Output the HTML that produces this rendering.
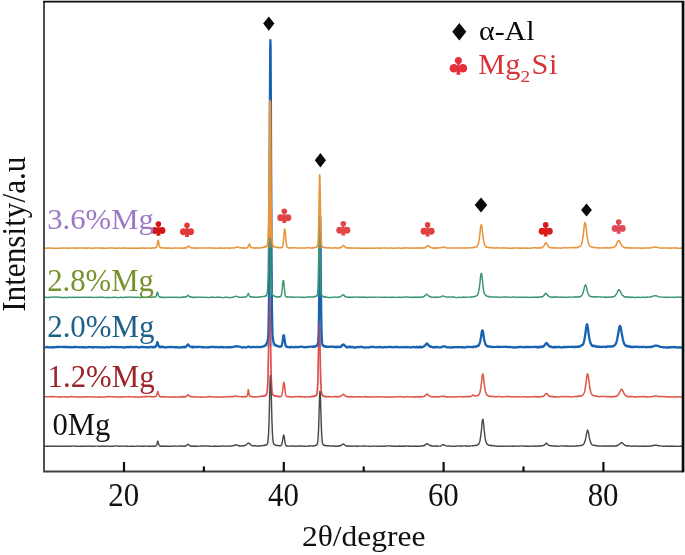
<!DOCTYPE html>
<html lang="en"><head><meta charset="utf-8"><title>XRD patterns</title>
<style>html,body{margin:0;padding:0;background:#fff}body{width:685px;height:555px;overflow:hidden;position:relative}</style></head>
<body>
<svg width="685" height="555" viewBox="0 0 685 555" style="position:absolute;left:0;top:0;filter:blur(0.4px)">
<rect width="685" height="555" fill="#fff"/>
<defs><clipPath id="cp"><rect x="44" y="2" width="639" height="469"/></clipPath></defs>
<g clip-path="url(#cp)" fill="none" stroke-linejoin="round" stroke-linecap="round">
<path d="M43.8,396.8 44.6,396.7 45.4,396.8 46.2,396.7 47.0,396.8 47.8,396.8 48.6,396.7 49.4,396.8 50.2,396.6 51.0,396.7 51.8,396.6 52.6,396.6 53.4,396.7 54.2,396.9 55.0,396.7 55.8,396.7 56.6,396.8 57.4,397.0 58.2,397.0 59.0,396.9 59.8,397.1 60.6,396.8 61.4,397.0 62.2,396.9 63.0,396.7 63.8,396.7 64.6,396.7 65.4,396.9 66.2,396.8 67.0,396.9 67.8,396.9 68.6,396.9 69.4,396.9 70.2,396.7 71.0,396.6 71.8,396.6 72.6,396.8 73.4,396.8 74.2,396.8 75.0,396.9 75.8,396.9 76.6,396.8 77.4,397.0 78.2,397.0 79.0,396.9 79.8,396.9 80.6,396.9 81.4,397.1 82.2,397.1 83.0,396.9 83.8,397.1 84.5,396.9 85.3,396.8 86.1,397.0 86.9,396.8 87.7,396.8 88.5,396.7 89.3,396.8 90.1,397.0 90.9,397.0 91.7,397.1 92.5,396.9 93.3,397.0 94.1,397.0 94.9,397.0 95.7,396.9 96.5,397.1 97.3,397.2 98.1,397.1 98.9,397.1 99.7,396.8 100.5,396.9 101.3,397.0 102.1,397.1 102.9,397.2 103.7,397.0 104.5,396.9 105.3,397.0 106.1,396.7 106.9,396.8 107.7,396.7 108.5,396.6 109.3,396.6 110.1,396.8 110.9,396.7 111.7,396.7 112.5,396.7 113.3,396.9 114.1,396.8 114.9,396.8 115.7,396.9 116.5,397.0 117.3,397.1 118.1,397.2 118.9,397.0 119.7,396.9 120.5,396.8 121.3,397.0 122.1,397.2 122.9,396.9 123.7,396.8 124.5,396.7 125.3,396.7 126.1,396.8 126.9,396.8 127.7,396.8 128.5,396.6 129.3,396.7 130.1,396.7 130.9,396.8 131.7,397.0 132.5,397.1 133.3,397.0 134.1,397.0 134.9,397.0 135.7,396.8 136.5,397.0 137.3,397.1 138.1,397.1 138.9,397.2 139.7,397.0 140.5,396.9 141.3,396.7 142.1,396.9 142.9,396.7 143.7,396.6 144.5,396.6 145.3,396.6 146.1,396.6 146.9,396.6 147.7,396.5 148.5,396.5 149.3,396.5 150.1,396.6 150.9,396.5 151.4,396.8 151.7,396.9 151.7,396.7 152.0,396.7 152.4,396.7 152.5,396.7 152.7,396.6 153.0,396.8 153.3,397.0 153.3,396.9 153.6,396.9 154.0,396.6 154.1,396.5 154.3,396.6 154.6,396.5 154.9,396.7 154.9,396.6 155.2,396.4 155.6,396.6 155.7,396.6 155.9,396.3 156.2,396.1 156.5,395.6 156.5,395.5 156.8,394.9 157.2,393.7 157.3,393.2 157.5,392.1 157.8,391.4 158.1,391.7 158.1,392.1 158.4,393.5 158.8,394.9 158.9,395.1 159.1,395.6 159.4,396.2 159.7,396.6 159.7,396.7 160.0,396.9 160.4,396.9 160.5,396.9 160.7,396.8 161.0,396.8 161.3,396.7 161.3,396.6 161.6,396.5 162.0,396.5 162.1,396.5 162.3,396.7 162.6,397.0 162.9,396.9 162.9,397.0 163.2,397.2 163.6,397.2 163.7,397.0 163.9,396.8 164.2,396.7 164.4,396.7 165.2,396.6 166.0,396.8 166.8,397.0 167.6,397.1 168.4,397.0 169.2,397.0 170.0,397.1 170.8,396.8 171.6,396.9 172.4,397.1 173.2,397.1 174.0,397.1 174.8,397.0 175.6,396.8 176.4,397.0 177.2,396.9 178.0,397.0 178.8,397.1 179.6,397.0 180.4,396.9 180.8,397.1 181.1,397.1 181.2,396.9 181.5,396.7 181.8,396.6 182.0,396.9 182.1,397.0 182.4,396.8 182.7,396.9 182.8,397.1 183.0,397.0 183.4,396.9 183.6,396.9 183.7,396.7 184.0,396.5 184.3,396.8 184.4,396.9 184.6,396.8 185.0,397.0 185.2,396.8 185.3,396.9 185.6,396.9 185.9,396.6 186.0,396.4 186.2,396.2 186.6,395.9 186.8,395.8 186.9,395.7 187.2,395.3 187.5,394.9 187.6,395.1 187.8,394.9 188.2,394.9 188.4,395.1 188.5,395.3 188.8,395.5 189.1,396.0 189.2,396.0 189.4,396.2 189.8,396.4 190.0,396.3 190.1,396.4 190.4,396.4 190.7,396.4 190.8,396.6 191.0,396.6 191.4,396.7 191.6,396.8 191.7,396.8 192.0,396.8 192.3,396.8 192.4,396.8 192.6,396.9 193.0,396.7 193.2,396.8 193.3,396.7 193.6,396.7 193.9,396.9 194.0,396.9 194.2,396.9 194.6,397.0 194.8,397.1 194.9,397.0 195.2,397.0 195.6,396.9 196.4,396.9 197.2,397.0 198.0,396.9 198.8,396.9 199.6,396.9 200.4,397.1 201.2,397.1 202.0,397.1 202.8,397.2 203.6,397.0 204.4,397.0 205.2,397.1 206.0,397.2 206.8,396.9 207.6,396.7 208.4,396.8 209.2,396.6 210.0,396.6 210.8,396.6 211.6,396.8 212.4,396.9 213.2,397.1 214.0,396.9 214.8,397.0 215.6,397.0 216.4,396.8 217.2,397.0 218.0,397.1 218.8,396.9 219.6,397.1 220.4,397.0 221.2,396.9 222.0,397.1 222.8,397.1 223.6,396.9 224.4,396.9 225.2,396.9 226.0,396.8 226.8,396.7 227.6,396.7 228.4,396.8 229.2,396.6 230.0,396.7 230.8,396.7 231.6,396.6 232.4,396.6 233.2,396.6 234.0,396.5 234.8,396.0 235.6,396.0 236.4,396.1 237.2,396.5 238.0,396.5 238.8,396.6 239.6,396.5 240.4,396.7 241.2,396.7 241.9,396.6 242.0,396.6 242.2,396.9 242.5,397.0 242.8,396.8 242.9,396.6 243.2,396.9 243.5,396.9 243.6,396.9 243.8,396.7 244.1,396.5 244.3,396.7 244.5,396.7 244.8,396.5 245.1,396.8 245.1,396.8 245.4,396.9 245.7,396.6 245.9,396.7 246.1,396.5 246.4,396.6 246.7,396.4 246.7,396.3 247.0,396.1 247.3,395.6 247.5,394.6 247.7,393.8 248.0,391.4 248.3,389.7 248.3,389.6 248.6,391.1 248.9,393.5 249.1,394.6 249.3,395.1 249.6,395.8 249.9,396.3 249.9,396.3 250.2,396.4 250.5,396.4 250.7,396.4 250.9,396.3 251.2,396.4 251.5,396.3 251.5,396.6 251.8,396.6 252.1,396.6 252.3,396.6 252.5,396.8 252.8,396.6 253.1,396.8 253.1,396.7 253.4,396.7 253.7,396.9 253.9,396.8 254.0,396.8 254.4,396.8 254.7,397.0 254.7,396.8 255.5,396.9 256.3,396.9 257.1,396.9 257.9,396.7 258.7,396.6 259.5,396.4 260.3,396.3 261.1,396.2 261.9,396.3 262.7,396.2 263.2,396.0 263.4,395.9 263.5,396.1 263.7,396.3 263.8,396.2 264.0,396.1 264.2,395.9 264.3,395.8 264.5,395.8 264.6,395.6 264.8,395.6 265.0,395.5 265.1,395.7 265.3,395.8 265.4,395.6 265.6,395.3 265.8,395.4 265.9,395.1 266.1,394.8 266.2,394.4 266.4,394.2 266.6,394.0 266.7,393.6 266.9,392.9 267.0,392.2 267.2,390.9 267.4,389.3 267.5,387.0 267.7,384.1 267.8,380.0 268.0,374.8 268.2,368.5 268.3,360.9 268.5,352.2 268.6,342.5 268.8,332.3 269.0,322.1 269.1,312.7 269.3,305.1 269.4,299.8 269.6,297.9 269.8,299.8 269.9,304.6 270.1,312.3 270.2,321.8 270.4,331.8 270.6,342.3 270.7,352.2 270.9,361.1 271.0,368.8 271.2,375.3 271.4,380.2 271.5,384.2 271.7,387.2 271.8,389.6 272.0,391.3 272.2,392.5 272.3,393.2 272.5,393.9 272.6,394.3 272.8,394.6 273.0,394.7 273.1,394.7 273.3,394.8 273.4,395.0 273.6,395.0 273.8,395.4 273.9,395.5 274.1,395.6 274.2,395.8 274.4,395.9 274.6,395.9 274.7,395.7 274.9,396.0 275.0,396.1 275.2,396.1 275.4,396.1 275.5,396.2 275.7,396.0 275.8,396.2 276.3,396.2 277.1,396.1 277.4,396.2 277.7,396.4 277.9,396.3 278.1,396.5 278.4,396.7 278.7,396.6 279.0,396.5 279.3,396.5 279.5,396.6 279.7,396.6 280.0,396.6 280.3,396.6 280.6,396.3 280.9,396.2 281.1,396.1 281.3,396.2 281.6,395.7 281.9,395.0 282.2,393.6 282.5,391.5 282.7,390.2 282.9,389.0 283.2,386.2 283.5,383.7 283.8,382.3 284.1,382.8 284.3,383.6 284.5,384.8 284.8,387.5 285.1,390.6 285.4,392.8 285.7,394.7 285.9,395.4 286.1,395.5 286.4,396.1 286.7,396.5 287.0,396.8 287.3,396.7 287.5,396.6 287.7,396.5 288.0,396.8 288.3,396.6 288.6,396.7 288.9,396.6 289.1,396.6 289.3,396.9 289.6,396.7 289.9,396.8 290.2,396.8 290.7,396.9 291.5,397.0 292.3,396.8 293.1,397.0 293.9,396.9 294.7,396.7 295.5,396.5 296.3,396.6 297.1,396.7 297.9,396.7 298.7,396.6 299.5,396.6 300.3,396.6 301.1,396.8 301.9,396.6 302.7,396.8 303.5,396.9 304.3,396.7 305.1,396.9 305.9,396.9 306.7,397.0 307.5,396.8 308.3,396.7 309.1,396.7 309.9,396.9 310.7,396.8 311.5,396.6 312.3,396.5 312.9,396.4 313.1,396.2 313.1,396.1 313.2,396.4 313.4,396.3 313.6,396.5 313.7,396.3 313.9,396.2 313.9,396.2 314.0,396.1 314.2,396.1 314.3,396.3 314.5,396.4 314.7,396.4 314.7,396.3 314.8,396.3 315.0,396.3 315.1,396.2 315.3,396.1 315.5,395.7 315.5,395.8 315.6,395.7 315.8,395.7 315.9,395.6 316.1,395.3 316.3,395.0 316.3,395.2 316.4,394.8 316.6,394.5 316.7,394.1 316.9,393.4 317.1,392.8 317.1,392.9 317.2,391.5 317.4,389.7 317.5,387.1 317.7,383.8 317.9,379.5 317.9,379.2 318.0,373.5 318.2,366.8 318.3,359.4 318.5,351.0 318.7,342.8 318.7,342.6 318.8,334.8 319.0,328.0 319.1,323.3 319.3,321.7 319.5,323.1 319.5,323.3 319.6,327.8 319.8,334.5 319.9,342.6 320.1,351.2 320.3,359.4 320.3,359.8 320.4,367.4 320.6,374.0 320.7,379.5 320.9,383.9 321.1,387.0 321.1,387.0 321.2,389.5 321.4,391.6 321.5,392.6 321.7,393.5 321.9,394.2 321.9,394.3 322.0,394.6 322.2,394.8 322.3,395.0 322.5,395.2 322.7,395.4 322.7,395.6 322.8,395.8 323.0,396.0 323.1,395.8 323.3,395.7 323.5,395.9 323.5,396.1 323.6,396.1 323.8,396.1 323.9,396.0 324.1,396.0 324.2,396.3 324.3,396.4 324.4,396.5 324.6,396.6 324.7,396.4 324.9,396.3 325.0,396.2 325.1,396.3 325.2,396.4 325.4,396.6 325.5,396.6 325.8,396.7 326.6,396.8 327.4,396.7 328.2,396.7 329.0,396.6 329.8,396.8 330.6,396.6 331.4,396.9 332.2,396.9 333.0,396.8 333.6,396.6 333.8,396.6 333.9,396.7 334.3,396.8 334.6,396.6 334.6,396.5 334.9,396.6 335.2,396.7 335.4,396.7 335.5,396.6 335.9,396.7 336.2,396.5 336.2,396.6 336.5,396.6 336.8,396.9 337.0,396.9 337.1,397.0 337.4,396.9 337.8,396.7 337.8,396.6 338.1,396.8 338.4,396.9 338.6,396.7 338.7,396.5 339.0,396.6 339.4,396.6 339.4,396.6 339.7,396.5 340.0,396.5 340.2,396.6 340.3,396.4 340.6,396.1 341.0,395.9 341.0,395.9 341.3,395.9 341.6,395.5 341.8,395.4 341.9,395.4 342.2,395.0 342.6,394.6 342.6,394.8 342.9,394.5 343.2,394.5 343.4,394.4 343.5,394.3 343.8,394.7 344.2,394.9 344.2,395.2 344.5,395.4 344.8,395.5 345.0,395.7 345.1,395.8 345.4,396.1 345.8,396.5 345.8,396.3 346.1,396.4 346.4,396.4 346.6,396.7 346.7,396.5 347.0,396.4 347.4,396.4 347.4,396.5 347.7,396.7 348.0,396.9 348.2,396.9 348.3,397.1 348.6,397.1 349.0,396.9 349.0,396.7 349.3,396.9 349.6,397.0 349.8,396.7 349.9,396.8 350.2,396.8 350.6,396.7 350.6,396.7 350.9,396.6 351.2,396.5 351.4,396.5 351.5,396.6 351.8,396.9 352.2,396.7 352.2,396.9 352.5,396.8 352.8,396.8 353.0,396.9 353.8,397.0 354.6,396.9 355.4,396.7 356.2,396.8 357.0,396.8 357.8,397.0 358.6,396.8 359.4,396.8 360.2,397.0 361.0,396.7 361.8,396.8 362.6,396.9 363.4,397.0 364.2,396.8 365.0,396.6 365.8,396.6 366.6,396.9 367.4,396.8 368.2,396.9 369.0,397.1 369.8,396.9 370.6,396.8 371.4,397.0 372.2,397.0 373.0,396.9 373.8,397.0 374.6,396.9 375.4,396.8 376.2,396.6 377.0,396.8 377.8,397.0 378.6,397.0 379.4,397.1 380.2,396.8 381.0,396.8 381.8,396.8 382.6,397.0 383.4,397.1 384.2,397.0 385.0,396.9 385.8,396.8 386.6,396.9 387.4,397.0 388.2,396.8 389.0,397.0 389.8,397.0 390.6,397.1 391.4,397.1 392.2,397.1 393.0,396.9 393.8,396.8 394.6,396.8 395.4,396.9 396.2,396.8 397.0,396.7 397.8,396.9 398.6,396.8 399.4,396.6 400.2,396.5 401.0,396.7 401.8,396.7 402.6,397.0 403.4,397.1 404.1,397.2 404.9,397.0 405.7,396.8 406.5,396.6 407.3,396.7 408.1,396.9 408.9,396.9 409.7,396.8 410.5,396.8 411.3,396.9 412.1,396.9 412.9,397.0 413.7,397.1 414.5,397.1 415.3,396.8 416.1,397.0 416.2,396.8 416.5,396.9 416.9,396.8 416.9,396.9 417.2,396.8 417.5,396.7 417.7,396.6 417.8,396.6 418.1,396.8 418.5,396.9 418.5,396.8 418.8,396.8 419.1,397.0 419.3,396.9 419.4,396.8 419.7,396.9 420.0,396.9 420.1,397.1 420.4,396.8 420.7,396.8 420.9,396.9 421.0,397.0 421.3,397.1 421.6,396.7 421.7,396.7 422.0,396.5 422.3,396.5 422.5,396.7 422.6,396.7 422.9,396.8 423.2,396.7 423.3,396.8 423.6,396.6 423.9,396.4 424.1,396.4 424.2,396.5 424.5,396.1 424.8,395.9 424.9,395.9 425.2,395.6 425.5,395.3 425.7,395.0 425.8,394.9 426.1,394.6 426.4,394.5 426.5,394.5 426.8,394.3 427.1,394.1 427.3,394.2 427.4,394.4 427.7,394.5 428.0,394.8 428.1,394.8 428.4,395.2 428.7,395.5 428.9,395.6 429.0,395.5 429.3,395.8 429.6,396.1 429.7,396.2 430.0,396.2 430.3,396.2 430.5,396.5 430.6,396.5 430.9,396.5 431.2,396.5 431.3,396.8 431.6,396.7 431.9,396.7 432.1,396.7 432.2,396.7 432.5,396.9 432.8,397.0 432.9,396.9 433.2,396.7 433.5,396.8 433.7,396.7 433.8,396.5 434.1,396.8 434.4,396.8 434.5,396.9 434.8,396.8 435.1,397.0 435.3,396.9 435.4,396.7 435.7,396.6 436.0,396.7 436.1,396.8 436.3,397.0 436.7,396.7 436.9,396.8 437.0,396.8 437.3,396.8 437.6,396.7 437.7,396.6 438.5,396.7 439.3,396.9 440.1,396.6 440.9,396.5 441.7,396.4 442.5,396.4 443.3,396.1 444.1,396.2 444.9,396.6 445.7,396.9 446.5,396.9 447.3,396.7 448.1,396.9 448.9,396.8 449.7,397.0 450.5,397.0 451.3,397.1 452.1,396.8 452.9,396.9 453.7,396.8 454.5,396.8 455.3,396.9 456.1,397.0 456.9,396.8 457.7,396.7 458.5,396.7 459.3,396.8 460.1,396.7 460.9,396.6 461.7,396.6 462.5,396.7 463.3,396.9 464.1,396.7 464.9,396.7 465.7,396.8 466.5,396.6 467.3,396.8 468.1,396.6 468.9,396.6 469.7,396.6 470.5,396.5 471.3,396.2 472.1,395.6 472.7,395.1 472.9,395.0 473.1,395.1 473.4,395.1 473.7,395.3 473.7,395.1 474.0,395.5 474.3,395.7 474.5,395.7 474.7,395.9 475.0,396.1 475.3,396.1 475.3,396.0 475.6,396.0 475.9,395.9 476.1,395.8 476.3,395.8 476.6,395.7 476.9,395.7 476.9,395.8 477.2,395.5 477.5,395.6 477.7,395.4 477.8,395.5 478.2,395.4 478.5,395.2 478.5,394.9 478.8,394.7 479.1,394.2 479.3,394.2 479.4,393.6 479.8,392.9 480.1,392.1 480.1,391.9 480.4,390.5 480.7,388.3 480.9,387.6 481.0,386.1 481.4,383.6 481.7,381.1 481.7,380.5 482.0,377.9 482.3,375.6 482.5,374.7 482.6,374.0 483.0,374.1 483.2,375.1 483.3,375.5 483.6,377.7 483.9,380.6 484.0,381.6 484.2,383.3 484.6,386.2 484.8,388.1 484.9,388.2 485.2,390.2 485.5,391.6 485.6,392.0 485.8,392.6 486.2,393.4 486.4,394.3 486.5,394.4 486.8,395.0 487.1,395.1 487.2,395.3 487.4,395.3 487.8,395.5 488.0,395.7 488.1,395.7 488.4,396.0 488.7,396.0 488.8,396.1 489.0,396.2 489.4,396.1 489.6,396.3 489.7,396.3 490.0,396.3 490.3,396.4 490.4,396.3 490.6,396.5 491.0,396.5 491.2,396.4 491.3,396.5 491.6,396.5 491.9,396.4 492.0,396.5 492.2,396.3 492.6,396.6 492.8,396.5 493.6,396.6 494.4,396.8 495.2,396.8 496.0,396.8 496.8,396.7 497.6,396.5 498.4,396.4 499.2,396.4 500.0,396.6 500.8,396.7 501.6,396.7 502.4,396.9 503.2,396.7 504.0,396.7 504.8,396.8 505.6,396.6 506.4,396.5 507.2,396.6 508.0,396.5 508.8,396.6 509.6,396.6 510.4,396.7 511.2,396.8 512.0,396.7 512.8,396.8 513.6,396.8 514.4,396.7 515.2,396.9 516.0,396.8 516.8,396.7 517.6,396.6 518.4,396.7 519.2,396.9 520.0,397.0 520.8,396.9 521.6,396.8 522.4,396.6 523.2,396.8 524.0,396.8 524.8,396.8 525.6,396.9 526.4,396.8 527.2,397.0 528.0,397.0 528.8,396.9 529.6,397.0 530.4,396.8 531.2,396.8 532.0,396.8 532.8,396.7 533.6,396.6 534.4,396.8 535.2,396.6 535.6,396.7 535.9,396.9 536.0,396.7 536.3,396.6 536.6,396.8 536.8,396.8 536.9,396.8 537.2,396.9 537.5,396.8 537.6,396.7 537.9,396.7 538.2,396.5 538.4,396.8 538.5,396.9 538.8,396.9 539.1,396.7 539.2,396.8 539.5,396.9 539.8,396.8 540.0,396.9 540.1,396.8 540.4,396.6 540.7,396.5 540.8,396.5 541.0,396.4 541.4,396.4 541.6,396.6 541.7,396.7 542.0,396.7 542.3,396.7 542.4,396.5 542.6,396.5 543.0,396.3 543.2,396.4 543.3,396.3 543.6,396.0 543.9,395.8 544.0,395.9 544.2,395.5 544.6,395.3 544.8,394.8 544.9,394.6 545.2,394.2 545.5,393.9 545.6,394.1 545.8,393.8 546.2,393.5 546.4,393.5 546.5,393.4 546.8,393.4 547.1,393.9 547.2,394.0 547.4,394.3 547.8,394.7 548.0,395.1 548.1,395.1 548.4,395.6 548.7,395.9 548.8,396.0 549.0,396.0 549.4,396.3 549.6,396.4 549.7,396.3 550.0,396.3 550.3,396.5 550.4,396.3 550.6,396.6 551.0,396.5 551.2,396.4 551.3,396.3 551.6,396.6 551.9,396.6 552.0,396.5 552.2,396.4 552.6,396.3 552.8,396.6 552.9,396.7 553.2,396.8 553.5,396.9 553.6,396.6 553.8,396.7 554.2,396.7 554.4,396.8 554.5,396.9 554.8,397.0 555.1,396.8 555.2,396.9 555.4,397.0 555.8,397.1 556.0,396.8 556.1,396.7 556.4,396.6 556.7,396.5 556.8,396.7 557.0,396.9 557.6,396.9 558.4,397.0 559.2,397.0 560.0,396.8 560.8,396.6 561.6,396.5 562.4,396.7 563.1,396.6 563.9,396.6 564.7,396.7 565.5,396.5 566.3,396.5 567.1,396.5 567.9,396.7 568.7,396.7 569.5,396.6 570.3,396.8 571.1,396.8 571.9,396.9 572.7,396.8 573.5,396.6 574.3,396.5 575.1,396.5 575.9,396.6 576.1,396.5 576.4,396.6 576.7,396.6 577.1,396.4 577.4,396.5 577.5,396.3 577.7,396.5 578.0,396.3 578.3,396.1 578.7,396.1 579.0,396.2 579.1,396.4 579.3,396.1 579.6,396.1 579.9,396.1 580.2,396.2 580.6,395.9 580.7,395.9 580.9,395.8 581.2,395.9 581.5,395.7 581.8,395.7 582.2,395.4 582.3,395.2 582.5,395.3 582.8,395.0 583.1,394.5 583.4,394.2 583.8,393.5 583.9,393.4 584.1,393.1 584.4,392.2 584.7,391.0 585.0,389.3 585.4,387.5 585.5,386.4 585.7,385.5 586.0,382.9 586.3,380.6 586.6,377.9 587.0,375.7 587.1,374.8 587.3,374.5 587.6,373.9 587.9,374.4 588.2,376.0 588.6,378.0 588.7,379.2 588.9,380.5 589.2,383.1 589.5,385.5 589.8,387.6 590.2,389.3 590.3,390.0 590.5,390.6 590.8,392.0 591.1,393.0 591.4,393.8 591.8,394.2 591.9,394.4 592.1,394.7 592.4,395.1 592.7,395.1 593.0,395.4 593.4,395.7 593.5,395.6 593.7,395.6 594.0,395.7 594.3,395.9 594.6,396.1 595.0,396.0 595.1,395.9 595.3,395.9 595.6,396.0 595.9,396.1 596.2,396.1 596.5,396.1 596.7,396.1 596.9,396.4 597.2,396.5 597.5,396.3 597.8,396.6 598.1,396.4 598.3,396.4 598.5,396.6 598.8,396.7 599.1,396.7 599.9,396.7 600.7,396.5 601.5,396.6 602.3,396.5 603.1,396.4 603.9,396.5 604.7,396.4 605.5,396.5 606.3,396.7 607.1,396.8 607.6,396.7 607.9,396.8 607.9,396.7 608.2,396.6 608.6,396.7 608.7,396.6 608.9,396.7 609.2,396.9 609.5,396.8 609.5,396.8 609.8,396.8 610.2,396.7 610.3,396.6 610.5,396.7 610.8,396.8 611.1,396.9 611.1,396.9 611.4,396.9 611.8,396.9 611.9,396.8 612.1,396.7 612.4,396.6 612.7,396.6 612.7,396.5 613.0,396.5 613.4,396.6 613.5,396.7 613.7,396.7 614.0,396.5 614.3,396.5 614.3,396.5 614.6,396.5 614.9,396.4 615.1,396.5 615.3,396.6 615.6,396.3 615.9,396.3 615.9,396.4 616.2,396.2 616.5,396.1 616.7,396.2 616.9,395.8 617.2,395.7 617.5,395.3 617.5,395.5 617.8,395.4 618.1,394.9 618.3,394.5 618.5,394.3 618.8,393.8 619.1,393.4 619.1,393.3 619.4,392.7 619.7,392.1 619.9,391.8 620.1,391.3 620.4,390.8 620.7,390.1 620.7,390.1 621.0,389.6 621.3,389.5 621.5,389.3 621.7,389.5 622.0,389.6 622.3,389.8 622.3,389.9 622.6,390.5 622.9,391.0 623.1,391.3 623.3,391.8 623.6,392.6 623.9,393.1 623.9,393.1 624.2,393.7 624.5,394.3 624.7,394.7 624.9,394.9 625.2,395.1 625.5,395.6 625.5,395.5 625.8,395.6 626.1,395.7 626.3,396.0 626.5,396.2 626.8,396.3 627.1,396.3 627.1,396.4 627.4,396.3 627.7,396.6 627.9,396.5 628.1,396.5 628.4,396.7 628.7,396.8 628.7,396.7 629.0,396.6 629.3,396.6 629.5,396.5 629.7,396.7 630.0,396.6 630.3,396.8 630.3,396.6 630.6,396.6 630.9,396.5 631.1,396.6 631.2,396.5 631.6,396.4 631.9,396.6 631.9,396.6 632.2,396.5 632.5,396.5 632.7,396.6 632.8,396.6 633.2,396.7 633.5,396.8 633.5,396.7 633.8,396.9 634.1,397.0 634.3,396.7 634.4,396.9 634.8,397.0 635.1,397.0 635.1,396.8 635.9,396.9 636.7,396.9 637.5,396.7 638.3,396.5 639.1,396.8 639.9,396.9 640.7,396.8 641.5,396.6 642.3,396.6 643.0,396.6 643.8,396.8 644.6,396.7 645.4,396.6 646.2,396.8 647.0,396.9 647.8,396.7 648.6,396.9 649.4,396.8 650.2,396.8 651.0,396.7 651.8,396.7 652.6,396.6 653.4,396.4 654.2,396.0 655.0,396.0 655.8,396.0 656.6,396.1 657.4,396.2 658.2,396.5 659.0,396.6 659.8,396.6 660.6,396.5 661.4,396.5 662.2,396.6 663.0,396.5 663.8,396.6 664.6,396.6 665.4,396.7 666.2,396.8 667.0,396.8 667.8,397.0 668.6,396.7 669.4,396.9 670.2,396.9 671.0,396.9 671.8,397.0 672.6,397.1 673.4,396.9 674.2,396.9 675.0,397.1 675.8,396.8 676.6,396.9 677.4,396.9 678.2,396.7 679.0,396.8 679.8,396.9 680.6,397.1 681.4,396.9 682.2,397.1 683.0,397.0" stroke="#dd5a4a" stroke-width="1.55"/>
<path d="M260.0,396.6 260.2,396.6 260.3,396.6 260.5,396.6 260.7,396.5 260.8,396.5 261.0,396.5 261.1,396.5 261.3,396.5 261.5,396.5 261.6,396.5 261.8,396.5 261.9,396.4 262.1,396.4 262.2,396.4 262.4,396.4 262.6,396.3 262.7,396.3 262.9,396.3 263.0,396.3 263.2,396.2 263.4,396.2 263.5,396.2 263.7,396.1 263.8,396.1 264.0,396.1 264.2,396.0 264.3,396.0 264.5,395.9 264.6,395.8 264.8,395.8 265.0,395.7 265.1,395.6 265.3,395.5 265.4,395.4 265.6,395.3 265.8,395.2 265.9,395.0 266.1,394.9 266.2,394.7 266.4,394.4 266.6,394.1 266.7,393.7 266.9,393.1 267.0,392.3 267.2,391.1 267.4,389.5 267.5,387.3 267.7,384.3 267.8,380.3 268.0,375.1 268.2,368.7 268.3,361.1 268.5,352.2 268.6,342.4 268.8,332.1 269.0,321.8 269.1,312.4 269.3,304.7 269.4,299.7 269.6,297.9 269.8,299.7 269.9,304.7 270.1,312.4 270.2,321.8 270.4,332.1 270.6,342.4 270.7,352.2 270.9,361.0 271.0,368.7 271.2,375.1 271.4,380.3 271.5,384.3 271.7,387.3 271.8,389.5 272.0,391.1 272.2,392.2 272.3,393.1 272.5,393.6 272.6,394.1 272.8,394.4 273.0,394.6 273.1,394.9 273.3,395.0 273.4,395.2 273.6,395.3 273.8,395.4 273.9,395.5 274.1,395.6 274.2,395.7 274.4,395.7 274.6,395.8 274.7,395.9 274.9,395.9 275.0,396.0 275.2,396.0 275.4,396.1 275.5,396.1 275.7,396.1 275.8,396.2 276.0,396.2 276.2,396.2 276.3,396.3 276.5,396.3 276.6,396.3 276.8,396.3 277.0,396.3 277.1,396.4 277.3,396.4 277.4,396.4 277.6,396.4 277.7,396.4 277.9,396.4 278.1,396.4 278.2,396.5 278.4,396.5 278.5,396.5 278.7,396.5 278.9,396.5 279.0,396.5Z" fill="#dd5a4a" fill-opacity="0.12" stroke="none"/>
<path d="M309.7,396.7 309.9,396.7 310.0,396.7 310.2,396.7 310.4,396.7 310.5,396.7 310.7,396.6 310.8,396.6 311.0,396.6 311.2,396.6 311.3,396.6 311.5,396.6 311.6,396.6 311.8,396.6 311.9,396.6 312.1,396.6 312.3,396.5 312.4,396.5 312.6,396.5 312.7,396.5 312.9,396.5 313.1,396.4 313.2,396.4 313.4,396.4 313.5,396.4 313.7,396.3 313.9,396.3 314.0,396.3 314.2,396.2 314.3,396.2 314.5,396.2 314.7,396.1 314.8,396.1 315.0,396.0 315.1,395.9 315.3,395.9 315.5,395.8 315.6,395.7 315.8,395.6 315.9,395.5 316.1,395.3 316.3,395.1 316.4,394.9 316.6,394.6 316.7,394.2 316.9,393.6 317.1,392.7 317.2,391.5 317.4,389.7 317.5,387.2 317.7,383.8 317.9,379.4 318.0,373.9 318.2,367.2 318.3,359.5 318.5,351.2 318.7,342.7 318.8,334.7 319.0,328.0 319.1,323.5 319.3,321.9 319.5,323.5 319.6,328.0 319.8,334.7 319.9,342.7 320.1,351.2 320.3,359.5 320.4,367.2 320.6,373.9 320.7,379.4 320.9,383.8 321.1,387.2 321.2,389.7 321.4,391.5 321.5,392.7 321.7,393.6 321.9,394.2 322.0,394.6 322.2,394.9 322.3,395.1 322.5,395.3 322.7,395.5 322.8,395.6 323.0,395.7 323.1,395.8 323.3,395.9 323.5,395.9 323.6,396.0 323.8,396.1 323.9,396.1 324.1,396.2 324.3,396.2 324.4,396.2 324.6,396.3 324.7,396.3 324.9,396.3 325.1,396.4 325.2,396.4 325.4,396.4 325.5,396.4 325.7,396.5 325.9,396.5 326.0,396.5 326.2,396.5 326.3,396.5 326.5,396.6 326.7,396.6 326.8,396.6 327.0,396.6 327.1,396.6 327.3,396.6 327.4,396.6 327.6,396.6 327.8,396.6 327.9,396.6 328.1,396.7 328.2,396.7 328.4,396.7 328.6,396.7 328.7,396.7Z" fill="#dd5a4a" fill-opacity="0.12" stroke="none"/>
<path d="M43.8,446.2 44.6,446.3 45.4,446.1 46.2,446.2 47.0,446.3 47.8,446.2 48.6,446.3 49.4,446.2 50.2,446.2 51.0,446.2 51.8,446.3 52.6,446.2 53.4,446.2 54.2,446.1 55.0,446.2 55.8,446.3 56.6,446.2 57.4,446.3 58.2,446.2 59.0,446.2 59.8,446.1 60.6,446.2 61.4,446.3 62.2,446.3 63.0,446.4 63.8,446.3 64.6,446.2 65.4,446.1 66.2,446.2 67.0,446.2 67.8,446.3 68.6,446.1 69.4,446.2 70.2,446.3 71.0,446.3 71.8,446.1 72.6,446.1 73.4,445.9 74.2,445.9 75.0,446.2 75.8,446.2 76.6,446.3 77.4,446.3 78.2,446.4 79.0,446.4 79.8,446.3 80.6,446.3 81.4,446.3 82.2,446.3 83.0,446.3 83.8,446.2 84.5,446.2 85.3,446.2 86.1,446.3 86.9,446.1 87.7,446.0 88.5,445.9 89.3,446.1 90.1,446.3 90.9,446.3 91.7,446.2 92.5,446.3 93.3,446.4 94.1,446.3 94.9,446.2 95.7,446.1 96.5,446.1 97.3,446.1 98.1,446.1 98.9,446.2 99.7,446.3 100.5,446.1 101.3,446.2 102.1,446.0 102.9,446.0 103.7,446.2 104.5,446.2 105.3,446.3 106.1,446.3 106.9,446.1 107.7,446.1 108.5,446.2 109.3,446.3 110.1,446.4 110.9,446.3 111.7,446.2 112.5,446.1 113.3,446.2 114.1,446.1 114.9,446.0 115.7,445.9 116.5,445.9 117.3,446.1 118.1,446.0 118.9,446.2 119.7,446.1 120.5,446.3 121.3,446.1 122.1,446.0 122.9,446.1 123.7,446.1 124.5,446.2 125.3,446.1 126.1,446.0 126.9,446.2 127.7,446.2 128.5,446.4 129.3,446.4 130.1,446.2 130.9,446.2 131.7,446.3 132.5,446.2 133.3,446.4 134.1,446.2 134.9,446.4 135.7,446.4 136.5,446.1 137.3,446.0 138.1,446.1 138.9,446.3 139.7,446.1 140.5,446.1 141.3,446.2 142.1,446.1 142.9,446.2 143.7,446.2 144.5,446.0 145.3,446.1 146.1,446.1 146.9,446.1 147.7,446.2 148.5,446.1 149.3,446.2 150.1,446.1 150.9,446.2 151.4,446.2 151.7,446.2 151.7,446.1 152.0,446.2 152.4,446.3 152.5,446.4 152.7,446.3 153.0,446.1 153.3,446.0 153.3,446.2 153.6,446.2 154.0,446.3 154.1,446.1 154.3,446.1 154.6,446.3 154.9,446.3 154.9,446.2 155.2,446.0 155.6,445.9 155.7,446.0 155.9,445.8 156.2,445.6 156.5,445.3 156.5,445.3 156.8,444.5 157.2,443.1 157.3,442.5 157.5,441.6 157.8,441.1 158.1,441.6 158.1,441.9 158.4,443.3 158.8,444.2 158.9,444.6 159.1,445.2 159.4,445.8 159.7,445.9 159.7,445.8 160.0,446.0 160.4,446.2 160.5,446.2 160.7,446.3 161.0,446.1 161.3,446.0 161.3,446.0 161.6,446.2 162.0,446.0 162.1,446.2 162.3,446.3 162.6,446.1 162.9,446.2 162.9,446.2 163.2,446.2 163.6,446.1 163.7,446.0 163.9,446.2 164.2,446.3 164.4,446.2 165.2,446.0 166.0,446.2 166.8,446.3 167.6,446.2 168.4,446.2 169.2,446.3 170.0,446.4 170.8,446.3 171.6,446.3 172.4,446.3 173.2,446.1 174.0,446.0 174.8,446.0 175.6,446.1 176.4,446.1 177.2,446.2 178.0,446.1 178.8,446.1 179.6,446.0 180.4,445.9 180.8,446.2 181.1,446.1 181.2,446.0 181.5,446.1 181.8,446.2 182.0,446.1 182.1,446.1 182.4,446.1 182.7,446.1 182.8,446.0 183.0,445.9 183.4,446.1 183.6,446.3 183.7,446.2 184.0,446.2 184.3,446.0 184.4,446.2 184.6,446.1 185.0,446.2 185.2,446.2 185.3,446.2 185.6,446.2 185.9,445.9 186.0,445.7 186.2,445.5 186.6,445.2 186.8,444.9 186.9,444.8 187.2,444.6 187.5,444.5 187.6,444.3 187.8,444.4 188.2,444.5 188.4,444.4 188.5,444.5 188.8,444.7 189.1,445.0 189.2,445.3 189.4,445.4 189.8,445.6 190.0,445.8 190.1,446.0 190.4,446.1 190.7,446.1 190.8,446.0 191.0,445.9 191.4,446.2 191.6,446.3 191.7,446.1 192.0,446.0 192.3,445.9 192.4,446.0 192.6,446.2 193.0,446.3 193.2,446.4 193.3,446.1 193.6,446.2 193.9,446.3 194.0,446.3 194.2,446.4 194.6,446.1 194.8,446.0 194.9,446.2 195.2,446.3 195.6,446.3 196.4,446.2 197.2,446.2 198.0,446.3 198.8,446.1 199.6,446.1 200.4,446.0 201.2,446.0 202.0,446.0 202.8,446.0 203.6,446.0 204.4,445.9 205.2,446.1 206.0,446.0 206.8,446.1 207.6,446.0 208.4,445.9 209.2,446.2 210.0,446.1 210.8,446.3 211.6,446.4 212.4,446.4 213.2,446.2 214.0,446.2 214.8,446.0 215.6,446.2 216.4,446.3 217.2,446.3 218.0,446.2 218.8,446.2 219.6,446.3 220.4,446.2 221.2,446.2 222.0,446.1 222.8,446.0 223.6,445.9 224.4,446.1 225.2,446.1 226.0,446.0 226.8,446.2 227.6,446.1 228.4,446.1 229.2,446.0 230.0,445.9 230.8,446.1 231.6,446.0 232.4,445.9 233.2,445.8 234.0,445.5 234.8,445.2 235.6,444.6 236.4,444.8 236.5,444.7 236.8,445.0 237.2,445.2 237.5,445.3 237.8,445.4 238.0,445.5 238.1,445.5 238.4,445.5 238.8,445.7 239.1,446.0 239.4,446.1 239.6,446.2 239.7,446.0 240.0,445.9 240.4,446.1 240.7,445.9 241.0,446.0 241.2,445.9 241.3,446.1 241.6,445.9 242.0,446.0 242.3,445.9 242.6,445.8 242.8,445.7 242.9,445.9 243.2,445.9 243.6,445.7 243.9,445.7 244.2,445.9 244.3,445.7 244.5,445.7 244.8,445.5 245.1,445.3 245.5,445.3 245.8,445.2 245.9,445.0 246.1,444.8 246.4,444.4 246.7,444.3 247.1,444.0 247.4,443.7 247.5,443.5 247.7,443.4 248.0,443.3 248.3,443.3 248.7,443.3 249.0,443.2 249.1,443.2 249.3,443.5 249.6,443.7 249.9,444.2 250.3,444.3 250.6,444.7 250.7,444.8 250.9,445.0 251.2,445.3 251.5,445.4 251.9,445.4 252.2,445.7 252.3,445.7 252.5,445.8 252.8,445.8 253.1,445.7 253.5,445.9 253.8,445.8 253.9,445.7 254.1,445.8 254.4,445.9 254.7,445.7 255.1,445.8 255.4,445.8 255.5,445.9 255.7,445.8 256.0,445.9 256.3,446.0 256.7,446.1 257.0,446.0 257.1,446.1 257.3,446.0 257.6,446.1 257.9,445.9 258.3,446.0 258.6,446.1 258.7,446.1 258.9,446.0 259.2,446.0 259.5,446.0 259.8,445.8 260.2,446.0 260.3,445.8 260.5,445.7 261.1,445.6 261.9,445.6 262.7,445.7 263.3,445.5 263.5,445.4 263.5,445.6 263.6,445.5 263.8,445.3 263.9,445.5 264.1,445.5 264.3,445.5 264.3,445.6 264.4,445.4 264.6,445.5 264.7,445.5 264.9,445.3 265.1,445.2 265.1,445.2 265.2,445.2 265.4,445.1 265.5,445.0 265.7,445.0 265.9,444.8 265.9,444.9 266.0,445.0 266.2,444.8 266.3,444.8 266.5,444.8 266.7,444.5 266.7,444.6 266.8,444.6 267.0,444.3 267.1,444.0 267.3,443.7 267.5,443.3 267.5,443.0 267.6,442.7 267.8,442.0 267.9,440.8 268.1,439.3 268.3,437.4 268.3,436.7 268.4,435.3 268.6,432.4 268.7,428.9 268.9,424.7 269.1,419.7 269.1,417.6 269.2,413.9 269.4,408.0 269.5,401.7 269.7,395.2 269.9,389.0 269.9,387.1 270.0,383.6 270.2,379.4 270.3,376.5 270.5,375.5 270.7,376.6 270.7,377.2 270.8,379.1 271.0,383.7 271.1,389.1 271.3,395.3 271.5,401.7 271.5,404.0 271.6,408.1 271.8,414.2 271.9,419.5 272.1,424.5 272.3,428.6 272.3,430.0 272.4,432.2 272.6,435.2 272.7,437.6 272.9,439.5 273.1,440.7 273.1,441.1 273.2,441.8 273.4,442.7 273.5,443.2 273.7,443.5 273.9,443.9 273.9,443.9 274.0,444.1 274.2,444.5 274.3,444.6 274.5,444.6 274.7,444.8 274.7,444.8 274.8,444.8 275.0,444.8 275.1,444.8 275.3,444.9 275.5,445.0 275.5,445.0 275.6,445.0 275.8,445.0 275.9,445.2 276.1,445.4 276.3,445.5 276.3,445.5 276.4,445.5 276.6,445.4 276.7,445.6 276.9,445.6 277.1,445.6 277.1,445.6 277.2,445.6 277.2,445.5 277.4,445.5 277.5,445.5 277.5,445.5 277.9,445.6 277.9,445.6 278.2,445.5 278.5,445.6 278.7,445.8 278.8,445.7 279.1,445.7 279.5,445.8 279.5,445.7 279.8,445.9 280.1,445.8 280.3,445.9 280.4,445.7 280.7,445.5 281.1,445.6 281.1,445.5 281.4,445.1 281.7,444.6 281.9,444.1 282.0,443.8 282.3,442.1 282.7,440.1 282.7,440.0 283.0,438.1 283.3,436.0 283.5,435.2 283.6,435.0 283.9,435.4 284.3,437.0 284.3,437.4 284.6,439.4 284.9,441.5 285.1,442.7 285.2,443.3 285.5,444.6 285.9,445.3 285.9,445.4 286.2,445.7 286.5,446.0 286.7,445.9 286.8,446.0 287.1,445.8 287.5,446.0 287.5,446.0 287.8,446.0 288.1,446.2 288.3,446.1 288.4,446.1 288.7,446.2 289.1,446.2 289.1,446.2 289.4,446.1 289.7,446.1 289.9,446.1 290.0,446.1 290.7,446.0 291.5,446.0 292.3,446.1 293.1,446.0 293.9,446.0 294.7,446.2 295.5,446.3 296.3,446.2 297.1,446.1 297.9,446.0 298.7,446.0 299.5,445.9 300.3,446.0 301.1,446.1 301.9,445.9 302.7,446.2 303.5,446.1 304.3,446.2 305.1,446.3 305.9,446.4 306.7,446.1 307.5,446.1 308.3,446.2 309.1,446.0 309.9,445.8 310.7,445.9 311.5,445.9 312.3,446.0 313.1,446.0 313.4,445.9 313.5,446.0 313.7,445.9 313.9,445.8 314.0,445.8 314.2,445.7 314.3,445.6 314.5,445.7 314.7,445.6 314.8,445.7 315.0,445.7 315.1,445.6 315.3,445.4 315.5,445.3 315.6,445.3 315.8,445.3 315.9,445.2 316.1,445.3 316.3,445.3 316.4,445.1 316.6,444.9 316.7,444.8 316.9,444.7 317.1,444.3 317.2,443.9 317.4,443.4 317.5,442.6 317.7,441.5 317.9,440.4 318.0,438.7 318.2,436.4 318.3,433.4 318.5,430.1 318.7,426.0 318.8,421.4 319.0,416.4 319.1,411.0 319.3,405.5 319.5,400.3 319.6,395.9 319.8,392.9 319.9,391.3 320.1,391.4 320.3,393.2 320.4,396.6 320.6,401.2 320.7,406.2 320.9,411.8 321.1,417.2 321.2,422.0 321.4,426.6 321.5,430.7 321.7,434.0 321.9,436.8 322.0,438.8 322.2,440.4 322.3,441.8 322.5,442.8 322.7,443.5 322.8,443.8 323.0,444.2 323.1,444.5 323.3,444.6 323.5,444.9 323.6,445.0 323.8,445.3 323.9,445.3 324.1,445.3 324.2,445.2 324.4,445.2 324.6,445.4 324.7,445.3 324.9,445.3 325.0,445.3 325.2,445.4 325.4,445.6 325.5,445.7 325.7,445.8 325.8,445.6 326.0,445.5 326.2,445.7 326.3,445.7 326.5,445.8 326.6,445.8 327.4,445.7 328.2,445.8 329.0,445.7 329.8,446.0 330.6,446.1 331.4,446.0 332.2,446.0 333.0,446.0 333.6,445.9 333.8,446.1 333.9,446.1 334.3,446.3 334.6,446.2 334.6,446.2 334.9,446.0 335.2,445.9 335.4,446.1 335.5,446.2 335.9,446.1 336.2,446.2 336.2,446.3 336.5,446.1 336.8,446.1 337.0,446.3 337.1,446.2 337.4,446.3 337.8,446.1 337.8,446.0 338.1,446.1 338.4,446.0 338.6,445.9 338.7,446.1 339.0,446.0 339.4,446.1 339.4,446.0 339.7,445.8 340.0,445.8 340.2,445.6 340.3,445.9 340.6,445.7 341.0,445.6 341.0,445.4 341.3,445.3 341.6,445.1 341.8,444.9 341.9,444.7 342.2,444.4 342.6,444.4 342.6,444.3 342.9,444.1 343.2,444.0 343.4,444.0 343.5,444.0 343.8,444.1 344.2,444.5 344.2,444.6 344.5,444.7 344.8,445.1 345.0,445.2 345.1,445.2 345.4,445.6 345.8,445.6 345.8,445.6 346.1,445.9 346.4,446.0 346.6,445.9 346.7,445.9 347.0,446.0 347.4,446.0 347.4,446.2 347.7,446.0 348.0,446.2 348.2,446.2 348.3,446.0 348.6,446.0 349.0,445.9 349.0,446.1 349.3,446.0 349.6,446.2 349.8,446.2 349.9,446.1 350.2,446.0 350.6,446.1 350.6,446.0 350.9,446.2 351.2,446.0 351.4,446.1 351.5,446.1 351.8,446.1 352.2,446.2 352.2,446.1 352.5,446.2 352.8,446.2 353.0,446.1 353.8,446.1 354.6,446.0 355.4,445.9 356.2,446.2 357.0,446.1 357.8,446.2 358.6,446.0 359.4,446.1 360.2,446.1 361.0,446.1 361.8,446.1 362.6,446.0 363.4,446.0 364.2,446.0 365.0,445.9 365.8,446.1 366.6,446.1 367.4,446.1 368.2,446.3 369.0,446.3 369.8,446.4 370.6,446.4 371.4,446.2 372.2,446.1 373.0,446.0 373.8,446.1 374.6,446.2 375.4,446.1 376.2,446.1 377.0,446.2 377.8,446.3 378.6,446.1 379.4,446.3 380.2,446.2 381.0,446.2 381.8,446.1 382.6,446.0 383.4,446.2 384.2,446.3 385.0,446.3 385.8,446.1 386.6,446.0 387.4,445.9 388.2,445.9 389.0,446.0 389.8,446.0 390.6,445.9 391.4,446.0 392.2,446.1 393.0,446.0 393.8,446.2 394.6,446.2 395.4,446.3 396.2,446.2 397.0,446.1 397.8,446.2 398.6,446.2 399.4,446.0 400.2,446.2 401.0,446.3 401.8,446.2 402.6,446.0 403.4,446.2 404.1,446.2 404.9,446.0 405.7,446.0 406.5,445.9 407.3,446.1 408.1,446.0 408.9,446.2 409.7,446.3 410.5,446.1 411.3,446.2 412.1,446.1 412.9,446.2 413.7,446.3 414.5,446.2 415.3,446.0 416.1,446.2 416.2,446.2 416.5,446.3 416.9,446.3 416.9,446.3 417.2,446.4 417.5,446.3 417.7,446.2 417.8,446.0 418.1,446.1 418.5,446.1 418.5,446.1 418.8,446.3 419.1,446.1 419.3,446.2 419.4,446.0 419.7,446.1 420.0,446.2 420.1,446.1 420.4,446.1 420.7,446.3 420.9,446.2 421.0,446.2 421.3,446.0 421.6,445.9 421.7,445.9 422.0,445.9 422.3,445.8 422.5,445.8 422.6,445.7 422.9,445.9 423.2,445.9 423.3,445.8 423.6,445.7 423.9,445.6 424.1,445.5 424.2,445.7 424.5,445.4 424.8,445.1 424.9,445.2 425.2,444.9 425.5,444.7 425.7,444.4 425.8,444.5 426.1,444.2 426.4,444.0 426.5,443.8 426.8,443.7 427.1,443.7 427.3,443.8 427.4,443.9 427.7,444.2 428.0,444.2 428.1,444.2 428.4,444.4 428.7,444.7 428.9,444.8 429.0,444.9 429.3,445.1 429.6,445.4 429.7,445.5 430.0,445.5 430.3,445.6 430.5,445.7 430.6,445.7 430.9,445.7 431.2,445.7 431.3,445.6 431.6,446.0 431.9,446.1 432.1,445.9 432.2,446.0 432.5,446.2 432.8,446.2 432.9,446.0 433.2,446.0 433.5,446.0 433.7,445.9 433.8,446.0 434.1,445.9 434.4,446.1 434.5,446.1 434.8,446.2 435.1,446.3 435.3,446.3 435.4,446.1 435.7,446.0 436.0,445.9 436.1,445.8 436.3,446.0 436.7,446.2 436.9,446.1 437.0,446.0 437.3,446.1 437.6,446.2 437.7,446.3 438.5,446.1 439.3,446.1 440.1,446.1 440.9,446.0 441.7,445.5 442.5,444.8 443.3,444.7 444.1,444.9 444.9,445.3 445.7,445.7 446.5,445.9 447.3,446.1 448.1,446.0 448.9,445.9 449.7,446.0 450.5,446.1 451.3,446.2 452.1,446.3 452.9,446.3 453.7,446.4 454.5,446.3 455.3,446.2 456.1,446.1 456.9,446.0 457.7,446.1 458.5,445.9 459.3,446.1 460.1,446.0 460.9,446.0 461.7,446.2 462.5,446.0 463.3,445.9 464.1,445.9 464.9,445.9 465.7,446.0 466.5,445.8 467.3,446.0 468.1,446.1 468.9,446.2 469.7,446.0 470.5,445.9 471.3,445.9 472.1,445.9 472.7,445.8 472.9,445.7 473.1,445.7 473.4,445.8 473.7,445.8 473.7,445.9 474.0,445.7 474.3,445.6 474.5,445.6 474.7,445.6 475.0,445.5 475.3,445.3 475.3,445.3 475.6,445.2 475.9,445.2 476.1,445.4 476.3,445.5 476.6,445.4 476.9,445.4 476.9,445.4 477.2,445.2 477.5,445.1 477.7,444.7 477.8,444.7 478.2,444.5 478.5,444.1 478.5,444.1 478.8,443.9 479.1,443.3 479.3,443.0 479.4,442.4 479.8,441.4 480.1,440.4 480.1,440.0 480.4,438.2 480.7,436.1 480.9,435.0 481.0,433.2 481.4,430.3 481.7,427.2 481.7,426.9 482.0,423.6 482.3,420.9 482.5,420.2 482.6,419.4 483.0,419.3 483.2,420.6 483.3,421.0 483.6,423.8 483.9,426.9 484.0,428.4 484.2,430.3 484.6,433.3 484.8,435.8 484.9,436.0 485.2,438.3 485.5,440.1 485.6,440.6 485.8,441.4 486.2,442.3 486.4,443.0 486.5,443.2 486.8,443.6 487.1,444.0 487.2,444.0 487.4,444.3 487.8,444.7 488.0,444.8 488.1,444.9 488.4,445.1 488.7,445.0 488.8,445.3 489.0,445.4 489.4,445.2 489.6,445.4 489.7,445.4 490.0,445.3 490.3,445.6 490.4,445.6 490.6,445.7 491.0,445.5 491.2,445.7 491.3,445.5 491.6,445.5 491.9,445.6 492.0,445.5 492.2,445.6 492.6,445.6 492.8,445.6 493.6,445.8 494.4,445.8 495.2,446.0 496.0,446.1 496.8,446.2 497.6,446.1 498.4,446.3 499.2,446.3 500.0,446.1 500.8,446.2 501.6,446.1 502.4,446.2 503.2,446.2 504.0,446.3 504.8,446.1 505.6,446.1 506.4,446.2 507.2,446.3 508.0,446.3 508.8,446.1 509.6,446.1 510.4,446.0 511.2,446.1 512.0,446.2 512.8,446.0 513.6,446.2 514.4,446.3 515.2,446.1 516.0,446.0 516.8,446.1 517.6,446.2 518.4,446.2 519.2,446.1 520.0,445.9 520.8,445.9 521.6,446.1 522.4,446.0 523.2,446.1 524.0,446.0 524.8,446.2 525.6,446.1 526.4,446.0 527.2,446.2 528.0,446.2 528.8,446.2 529.6,446.3 530.4,446.4 531.2,446.1 532.0,446.1 532.8,446.0 533.6,446.0 534.4,446.2 535.2,446.3 535.6,446.1 535.9,446.0 536.0,446.1 536.3,446.2 536.6,446.1 536.8,446.1 536.9,446.0 537.2,446.2 537.5,446.1 537.6,446.2 537.9,446.2 538.2,446.0 538.4,446.0 538.5,445.9 538.8,446.1 539.1,446.1 539.2,446.0 539.5,445.9 539.8,445.9 540.0,446.0 540.1,446.0 540.4,446.0 540.7,445.9 540.8,445.8 541.0,445.9 541.4,445.9 541.6,445.7 541.7,445.8 542.0,446.0 542.3,445.8 542.4,445.7 542.6,445.8 543.0,445.6 543.2,445.5 543.3,445.5 543.6,445.3 543.9,445.2 544.0,445.2 544.2,445.1 544.6,445.0 544.8,444.5 544.9,444.4 545.2,444.1 545.5,443.9 545.6,443.8 545.8,443.6 546.2,443.4 546.4,443.2 546.5,443.1 546.8,443.4 547.1,443.7 547.2,443.8 547.4,444.1 547.8,444.3 548.0,444.6 548.1,444.7 548.4,445.0 548.7,445.2 548.8,445.2 549.0,445.4 549.4,445.5 549.6,445.5 549.7,445.5 550.0,445.6 550.3,445.9 550.4,445.9 550.6,445.9 551.0,445.8 551.2,445.8 551.3,445.8 551.6,445.8 551.9,445.7 552.0,446.0 552.2,446.0 552.6,446.0 552.8,446.0 552.9,446.0 553.2,445.9 553.5,445.8 553.6,445.9 553.8,445.9 554.2,446.0 554.4,446.1 554.5,446.2 554.8,446.1 555.1,446.3 555.2,446.2 555.4,446.0 555.8,445.9 556.0,446.0 556.1,446.2 556.4,446.1 556.7,446.2 556.8,446.2 557.0,446.3 557.6,446.1 558.4,446.1 559.2,446.2 560.0,446.1 560.8,446.0 561.6,445.9 562.4,445.9 563.1,445.9 563.9,446.0 564.7,446.0 565.5,446.0 566.3,445.9 567.1,446.0 567.9,446.2 568.7,446.2 569.5,446.0 570.3,446.1 571.1,446.3 571.9,446.2 572.7,446.0 573.5,446.1 574.3,446.2 575.1,446.0 575.9,445.9 576.1,445.8 576.4,445.8 576.7,446.0 577.1,446.0 577.4,446.1 577.5,445.9 577.7,445.8 578.0,445.9 578.3,445.9 578.7,445.8 579.0,445.8 579.1,445.7 579.3,445.6 579.6,445.6 579.9,445.4 580.2,445.5 580.6,445.5 580.7,445.5 580.9,445.5 581.2,445.4 581.5,445.3 581.8,445.1 582.2,445.2 582.3,445.2 582.5,445.2 582.8,444.8 583.1,444.7 583.4,444.5 583.8,444.0 583.9,443.6 584.1,443.3 584.4,442.6 584.7,441.9 585.0,440.7 585.4,439.7 585.5,438.9 585.7,438.2 586.0,436.6 586.3,434.8 586.6,433.2 587.0,431.7 587.1,431.0 587.3,430.6 587.6,430.1 587.9,430.6 588.2,431.7 588.6,433.3 588.7,434.0 588.9,434.9 589.2,436.8 589.5,438.3 589.8,439.6 590.2,440.9 590.3,441.6 590.5,441.9 590.8,442.6 591.1,443.3 591.4,444.0 591.8,444.4 591.9,444.5 592.1,444.8 592.4,444.9 592.7,445.1 593.0,445.1 593.4,445.1 593.5,445.1 593.7,445.1 594.0,445.3 594.3,445.4 594.6,445.4 595.0,445.7 595.1,445.6 595.3,445.5 595.6,445.5 595.9,445.7 596.2,445.9 596.5,445.8 596.7,445.6 596.9,445.8 597.2,445.7 597.5,446.0 597.8,445.9 598.1,446.0 598.3,445.9 598.5,446.0 598.8,446.0 599.1,445.9 599.9,446.1 600.7,445.9 601.5,446.1 602.3,445.9 603.1,446.0 603.9,446.0 604.7,446.2 605.5,446.0 606.3,446.0 607.1,446.0 607.6,446.2 607.9,446.3 607.9,446.3 608.2,446.1 608.6,446.0 608.7,445.9 608.9,446.0 609.2,445.9 609.5,445.9 609.5,446.0 609.8,446.1 610.2,446.0 610.3,446.2 610.5,446.1 610.8,446.1 611.1,445.9 611.1,446.1 611.4,446.2 611.8,446.1 611.9,446.2 612.1,446.2 612.4,446.1 612.7,446.0 612.7,446.0 613.0,446.2 613.4,446.0 613.5,446.1 613.7,446.1 614.0,446.0 614.3,446.0 614.3,446.2 614.6,446.0 614.9,446.1 615.1,446.0 615.3,446.1 615.6,446.1 615.9,445.9 615.9,446.0 616.2,446.1 616.5,445.9 616.7,445.6 616.9,445.5 617.2,445.7 617.5,445.4 617.5,445.6 617.8,445.3 618.1,445.2 618.3,445.0 618.5,444.8 618.8,444.7 619.1,444.3 619.1,444.3 619.4,444.2 619.7,444.0 619.9,443.9 620.1,443.8 620.4,443.3 620.7,442.9 620.7,443.0 621.0,442.9 621.3,442.6 621.5,442.6 621.7,442.5 622.0,442.7 622.3,442.8 622.3,442.7 622.6,443.3 622.9,443.5 623.1,443.8 623.3,443.8 623.6,444.1 623.9,444.3 623.9,444.4 624.2,444.6 624.5,445.0 624.7,444.9 624.9,445.2 625.2,445.4 625.5,445.4 625.5,445.4 625.8,445.6 626.1,445.8 626.3,445.8 626.5,445.7 626.8,446.0 627.1,446.1 627.1,446.1 627.4,446.0 627.7,445.9 627.9,445.8 628.1,445.8 628.4,445.7 628.7,445.8 628.7,445.9 629.0,446.0 629.3,446.0 629.5,445.8 629.7,446.0 630.0,446.1 630.3,446.1 630.3,446.1 630.6,446.2 630.9,446.3 631.1,446.3 631.2,446.3 631.6,446.2 631.9,446.1 631.9,446.1 632.2,446.3 632.5,446.2 632.7,446.1 632.8,446.1 633.2,446.0 633.5,446.2 633.5,446.0 633.8,446.1 634.1,446.2 634.3,446.1 634.4,446.2 634.8,446.1 635.1,446.0 635.1,446.0 635.9,445.9 636.7,446.1 637.5,446.2 638.3,446.3 639.1,446.1 639.9,446.2 640.7,446.1 641.5,446.2 642.3,446.2 643.0,446.1 643.8,446.3 644.6,446.0 645.4,446.2 646.2,446.3 647.0,446.2 647.8,446.2 648.6,446.3 649.4,446.1 650.2,446.0 651.0,446.0 651.8,445.8 652.6,445.7 653.4,445.5 654.2,445.3 655.0,445.2 655.8,445.3 656.6,445.3 657.4,445.5 658.2,445.7 659.0,445.7 659.8,445.9 660.6,445.9 661.4,446.1 662.2,446.1 663.0,446.2 663.8,446.2 664.6,446.2 665.4,446.1 666.2,446.0 667.0,446.2 667.8,446.2 668.6,446.2 669.4,446.2 670.2,446.3 671.0,446.2 671.8,446.0 672.6,446.2 673.4,446.2 674.2,446.2 675.0,446.3 675.8,446.4 676.6,446.4 677.4,446.2 678.2,446.1 679.0,446.3 679.8,446.4 680.6,446.2 681.4,446.0 682.2,446.0 683.0,445.9" stroke="#484848" stroke-width="1.4"/>
<path d="M260.9,445.9 261.1,445.9 261.2,445.9 261.4,445.8 261.6,445.8 261.7,445.8 261.9,445.8 262.0,445.8 262.2,445.8 262.4,445.8 262.5,445.8 262.7,445.7 262.8,445.7 263.0,445.7 263.1,445.7 263.3,445.7 263.5,445.7 263.6,445.6 263.8,445.6 263.9,445.6 264.1,445.6 264.3,445.5 264.4,445.5 264.6,445.5 264.7,445.4 264.9,445.4 265.1,445.3 265.2,445.3 265.4,445.2 265.5,445.2 265.7,445.1 265.9,445.1 266.0,445.0 266.2,444.9 266.3,444.8 266.5,444.7 266.7,444.5 266.8,444.4 267.0,444.2 267.1,443.9 267.3,443.6 267.5,443.2 267.6,442.6 267.8,441.8 267.9,440.7 268.1,439.3 268.3,437.5 268.4,435.2 268.6,432.2 268.7,428.7 268.9,424.4 269.1,419.5 269.2,413.9 269.4,407.8 269.5,401.5 269.7,395.1 269.9,389.0 270.0,383.6 270.2,379.4 270.3,376.6 270.5,375.7 270.7,376.6 270.8,379.4 271.0,383.6 271.1,389.0 271.3,395.1 271.5,401.5 271.6,407.8 271.8,413.9 271.9,419.5 272.1,424.4 272.3,428.7 272.4,432.2 272.6,435.2 272.7,437.5 272.9,439.3 273.1,440.7 273.2,441.8 273.4,442.6 273.5,443.2 273.7,443.6 273.9,443.9 274.0,444.2 274.2,444.4 274.3,444.5 274.5,444.7 274.7,444.8 274.8,444.9 275.0,445.0 275.1,445.0 275.3,445.1 275.5,445.2 275.6,445.2 275.8,445.3 275.9,445.3 276.1,445.4 276.3,445.4 276.4,445.4 276.6,445.5 276.7,445.5 276.9,445.5 277.1,445.6 277.2,445.6 277.4,445.6 277.5,445.6 277.7,445.7 277.9,445.7 278.0,445.7 278.2,445.7 278.3,445.7 278.5,445.7 278.6,445.7 278.8,445.7 279.0,445.8 279.1,445.8 279.3,445.8 279.4,445.8 279.6,445.8 279.8,445.8 279.9,445.8Z" fill="#484848" fill-opacity="0.08" stroke="none"/>
<path d="M310.4,446.0 310.6,446.0 310.7,446.0 310.9,446.0 311.1,446.0 311.2,446.0 311.4,446.0 311.5,445.9 311.7,445.9 311.9,445.9 312.0,445.9 312.2,445.9 312.3,445.9 312.5,445.9 312.6,445.9 312.8,445.9 313.0,445.8 313.1,445.8 313.3,445.8 313.4,445.8 313.6,445.8 313.8,445.8 313.9,445.7 314.1,445.7 314.2,445.7 314.4,445.7 314.6,445.6 314.7,445.6 314.9,445.6 315.0,445.5 315.2,445.5 315.4,445.4 315.5,445.4 315.7,445.3 315.8,445.3 316.0,445.2 316.2,445.1 316.3,445.0 316.5,444.9 316.6,444.8 316.8,444.6 317.0,444.4 317.1,444.0 317.3,443.6 317.4,443.0 317.6,442.2 317.8,441.1 317.9,439.6 318.1,437.7 318.2,435.2 318.4,432.1 318.6,428.4 318.7,424.1 318.9,419.2 319.0,413.9 319.2,408.5 319.4,403.2 319.5,398.4 319.7,394.6 319.8,392.1 320.0,391.2 320.2,392.1 320.3,394.6 320.5,398.4 320.6,403.2 320.8,408.5 321.0,413.9 321.1,419.2 321.3,424.1 321.4,428.4 321.6,432.1 321.8,435.2 321.9,437.7 322.1,439.6 322.2,441.1 322.4,442.2 322.6,443.0 322.7,443.6 322.9,444.0 323.0,444.4 323.2,444.6 323.4,444.8 323.5,444.9 323.7,445.0 323.8,445.1 324.0,445.2 324.2,445.3 324.3,445.3 324.5,445.4 324.6,445.4 324.8,445.5 325.0,445.5 325.1,445.6 325.3,445.6 325.4,445.6 325.6,445.7 325.8,445.7 325.9,445.7 326.1,445.7 326.2,445.8 326.4,445.8 326.6,445.8 326.7,445.8 326.9,445.8 327.0,445.8 327.2,445.9 327.4,445.9 327.5,445.9 327.7,445.9 327.8,445.9 328.0,445.9 328.1,445.9 328.3,445.9 328.5,445.9 328.6,446.0 328.8,446.0 328.9,446.0 329.1,446.0 329.3,446.0 329.4,446.0Z" fill="#484848" fill-opacity="0.08" stroke="none"/>
<path d="M43.8,347.1 44.6,347.3 45.4,347.3 46.2,347.2 47.0,347.0 47.8,347.0 48.6,347.4 49.4,347.4 50.2,347.3 51.0,347.2 51.8,347.4 52.6,347.5 53.4,347.2 54.2,347.3 55.0,347.2 55.8,347.2 56.6,347.0 57.4,347.0 58.2,347.0 59.0,347.0 59.8,346.8 60.6,346.8 61.4,347.0 62.2,346.8 63.0,346.8 63.8,347.1 64.6,347.0 65.4,347.0 66.2,346.9 67.0,347.2 67.8,347.0 68.6,347.1 69.4,347.4 70.2,347.1 71.0,347.1 71.8,347.3 72.6,347.3 73.4,347.2 74.2,346.9 75.0,347.0 75.8,347.0 76.6,347.2 77.4,347.1 78.2,347.1 79.0,347.2 79.8,347.4 80.6,347.2 81.4,347.1 82.2,347.2 83.0,347.4 83.8,347.2 84.5,347.4 85.3,347.5 86.1,347.3 86.9,347.3 87.7,347.2 88.5,347.0 89.3,347.2 90.1,347.1 90.9,347.2 91.7,347.2 92.5,347.4 93.3,347.5 94.1,347.1 94.9,347.2 95.7,347.2 96.5,347.2 97.3,347.4 98.1,347.2 98.9,347.2 99.7,347.4 100.5,347.3 101.3,347.3 102.1,347.2 102.9,347.4 103.7,347.4 104.5,347.5 105.3,347.3 106.1,347.0 106.9,347.2 107.7,347.2 108.5,347.4 109.3,347.4 110.1,347.1 110.9,347.0 111.7,346.8 112.5,347.2 113.3,347.0 114.1,346.8 114.9,347.1 115.7,347.2 116.5,346.9 117.3,347.1 118.1,347.3 118.9,347.2 119.7,347.0 120.5,347.2 121.3,347.1 122.1,347.2 122.9,347.5 123.7,347.5 124.5,347.6 125.3,347.2 126.1,347.1 126.9,347.2 127.7,346.9 128.5,347.3 129.3,347.1 130.1,347.0 130.9,347.0 131.7,346.9 132.5,347.2 133.3,347.2 134.1,347.2 134.9,347.2 135.7,346.9 136.5,346.9 137.3,347.2 138.1,347.4 138.9,347.5 139.7,347.2 140.5,347.1 141.3,346.9 142.1,347.0 142.9,347.0 143.7,347.1 144.5,347.1 145.3,347.2 146.1,347.1 146.9,347.3 147.7,347.1 148.5,347.4 149.3,347.3 150.1,347.0 150.9,347.0 151.0,347.1 151.3,347.0 151.6,347.1 151.7,347.0 152.0,346.9 152.3,347.2 152.5,347.0 152.6,347.2 152.9,347.3 153.2,347.3 153.3,347.2 153.6,347.4 153.9,347.2 154.1,347.4 154.2,347.0 154.5,346.9 154.8,347.0 154.9,346.7 155.2,347.0 155.5,346.6 155.7,346.6 155.8,346.3 156.1,346.2 156.4,345.3 156.5,345.4 156.8,344.2 157.1,343.0 157.3,342.5 157.4,342.2 157.7,342.6 158.0,344.2 158.1,344.0 158.4,345.4 158.7,346.0 158.9,346.1 159.0,346.1 159.3,346.7 159.6,347.1 159.7,347.0 160.0,347.1 160.3,347.0 160.5,347.2 160.6,347.3 160.9,347.0 161.2,346.8 161.3,347.0 161.6,346.8 161.9,347.1 162.1,347.0 162.2,346.9 162.5,347.0 162.8,347.0 162.9,347.1 163.2,346.9 163.5,347.2 163.7,347.1 163.8,347.3 164.4,347.1 165.2,347.3 166.0,347.5 166.8,347.3 167.6,347.0 168.4,347.0 169.2,347.2 170.0,347.0 170.8,347.1 171.6,346.9 172.4,347.0 173.2,347.2 174.0,347.1 174.8,347.3 175.6,347.0 176.4,347.3 177.2,347.0 178.0,347.3 178.8,347.5 179.6,347.6 180.4,347.4 180.8,347.2 181.1,347.1 181.2,347.3 181.5,347.2 181.8,347.4 182.0,347.1 182.1,347.1 182.4,347.3 182.7,347.3 182.8,347.2 183.0,347.0 183.4,346.8 183.6,346.8 183.7,347.1 184.0,347.3 184.3,347.0 184.4,347.3 184.6,346.9 185.0,347.0 185.2,347.2 185.3,347.0 185.6,347.1 185.9,347.0 186.0,346.6 186.2,346.4 186.6,346.1 186.8,345.7 186.9,345.8 187.2,345.2 187.5,345.0 187.6,344.8 187.8,344.4 188.2,344.6 188.4,344.6 188.5,344.8 188.8,345.5 189.1,345.9 189.2,346.0 189.4,346.0 189.8,346.4 190.0,346.4 190.1,346.6 190.4,346.6 190.7,346.8 190.8,346.8 191.0,346.8 191.4,347.0 191.6,346.9 191.7,346.8 192.0,347.2 192.3,347.0 192.4,347.3 192.6,347.4 193.0,347.3 193.2,347.0 193.3,346.8 193.6,347.2 193.9,346.9 194.0,347.0 194.2,347.1 194.6,346.9 194.8,347.0 194.9,346.9 195.2,347.0 195.6,347.1 196.4,347.0 197.2,346.9 198.0,347.0 198.8,346.9 199.6,346.8 200.4,346.8 201.2,347.2 202.0,347.2 202.8,347.4 203.6,347.0 204.4,347.3 205.2,347.3 206.0,347.4 206.8,347.3 207.6,347.4 208.4,347.1 209.2,347.3 210.0,347.1 210.8,347.0 211.6,346.8 212.4,346.9 213.2,347.0 214.0,347.0 214.8,347.3 215.6,347.0 216.4,347.1 217.2,347.0 218.0,347.1 218.8,347.3 219.6,347.4 220.4,347.0 221.2,346.9 222.0,347.1 222.8,347.4 223.6,347.0 224.4,347.2 225.2,347.3 226.0,347.4 226.8,347.2 227.6,347.4 228.4,347.2 229.2,347.4 230.0,347.0 230.8,347.3 231.6,347.2 232.4,347.1 233.2,346.8 234.0,346.6 234.8,346.6 235.6,346.5 236.4,346.2 237.2,346.4 238.0,346.5 238.8,346.6 239.6,346.7 240.4,346.8 241.2,347.2 242.0,347.4 242.8,347.5 243.6,347.3 244.3,347.2 245.1,347.3 245.9,347.4 246.7,347.3 247.5,347.0 248.3,346.5 249.1,346.8 249.9,347.2 250.7,347.3 251.5,347.0 252.3,347.1 253.1,347.0 253.9,346.8 254.7,347.1 255.5,347.1 256.3,347.2 257.1,346.8 257.9,347.0 258.7,347.1 259.5,347.2 260.3,347.0 261.1,347.0 261.9,346.9 262.7,346.6 263.5,346.2 264.0,346.2 264.2,346.1 264.3,346.1 264.5,345.8 264.6,345.9 264.8,345.7 265.0,345.8 265.1,345.3 265.3,345.4 265.4,345.4 265.6,345.0 265.8,345.0 265.9,344.6 266.1,344.2 266.2,344.0 266.4,343.7 266.6,343.5 266.7,343.5 266.9,343.2 267.0,342.9 267.2,342.3 267.4,341.9 267.5,341.4 267.7,340.6 267.8,339.8 268.0,338.5 268.2,336.3 268.3,333.1 268.5,328.8 268.6,322.3 268.8,312.3 269.0,298.1 269.1,278.8 269.3,253.3 269.4,221.5 269.6,184.9 269.8,145.2 269.9,106.1 270.1,72.5 270.2,48.9 270.4,40.2 270.6,48.2 270.7,71.2 270.9,104.6 271.0,143.5 271.2,183.3 271.4,220.1 271.5,251.7 271.7,277.2 271.8,297.0 272.0,311.6 272.2,321.7 272.3,328.6 272.5,333.2 272.6,335.9 272.8,338.0 273.0,339.1 273.1,340.4 273.3,340.9 273.4,341.5 273.6,342.3 273.8,342.6 273.9,342.9 274.1,343.5 274.2,343.8 274.4,344.2 274.6,344.3 274.7,344.4 274.9,344.8 275.0,344.9 275.2,345.3 275.4,345.1 275.5,345.4 275.7,345.2 275.8,345.3 276.0,345.2 276.1,345.2 276.3,345.7 276.5,345.7 276.6,345.9 277.1,345.9 277.2,345.9 277.5,345.8 277.9,346.0 277.9,346.3 278.2,346.3 278.5,346.3 278.7,346.6 278.8,346.7 279.1,346.7 279.5,346.4 279.5,346.5 279.8,346.4 280.1,346.7 280.3,346.5 280.4,346.6 280.7,346.6 281.1,346.3 281.1,346.3 281.4,346.1 281.7,345.7 281.9,345.0 282.0,344.4 282.3,343.0 282.7,340.5 282.7,340.4 283.0,338.3 283.3,336.1 283.5,335.2 283.6,335.1 283.9,335.6 284.3,337.3 284.3,337.6 284.6,339.3 284.9,341.6 285.1,342.8 285.2,343.8 285.5,345.4 285.9,345.9 285.9,346.1 286.2,346.5 286.5,346.4 286.7,346.5 286.8,346.8 287.1,346.9 287.5,346.8 287.5,347.0 287.8,346.8 288.1,346.9 288.3,346.9 288.4,347.2 288.7,347.2 289.1,347.3 289.1,347.2 289.4,347.1 289.7,347.3 289.9,347.3 290.0,347.3 290.7,347.1 291.5,346.9 292.3,347.0 293.1,347.2 293.9,347.3 294.7,347.1 295.5,346.9 296.3,347.0 297.1,347.2 297.9,347.0 298.7,347.2 299.5,346.9 300.3,346.9 301.1,346.7 301.9,346.7 302.7,346.8 303.5,347.2 304.3,347.4 305.1,347.1 305.9,347.0 306.7,347.2 307.5,347.0 308.3,346.9 309.1,346.9 309.9,346.7 310.7,346.6 311.5,346.7 312.3,346.6 313.1,346.9 313.7,346.6 313.9,346.5 313.9,346.8 314.0,346.7 314.2,346.8 314.3,346.8 314.5,346.8 314.7,346.6 314.7,346.4 314.8,346.5 315.0,346.5 315.1,346.4 315.3,346.5 315.5,346.5 315.5,346.3 315.6,346.1 315.8,346.3 315.9,346.2 316.1,346.0 316.3,346.0 316.3,345.8 316.4,345.9 316.6,345.5 316.7,345.6 316.9,345.4 317.1,345.2 317.1,345.4 317.2,345.0 317.4,344.6 317.5,344.1 317.7,343.8 317.9,343.5 317.9,343.5 318.0,342.6 318.2,341.4 318.3,339.1 318.5,335.8 318.7,331.3 318.7,331.3 318.8,324.0 319.0,314.0 319.1,301.0 319.3,285.0 319.5,268.3 319.5,267.4 319.6,249.0 319.8,232.7 319.9,221.4 320.1,217.2 320.3,220.9 320.3,221.6 320.4,233.1 320.6,249.4 320.7,267.7 320.9,285.6 321.1,300.4 321.1,301.0 321.2,313.8 321.4,323.8 321.5,331.1 321.7,336.2 321.9,339.3 321.9,339.4 322.0,341.3 322.2,342.7 322.3,343.3 322.5,344.1 322.7,344.6 322.7,344.7 322.8,344.7 323.0,345.1 323.1,345.4 323.3,345.5 323.5,345.8 323.5,345.9 323.6,346.1 323.8,346.2 323.9,346.2 324.1,346.4 324.2,346.1 324.3,346.2 324.4,346.4 324.6,346.4 324.7,346.3 324.9,346.1 325.0,346.3 325.1,346.5 325.2,346.4 325.4,346.3 325.5,346.3 325.7,346.2 325.8,346.5 325.9,346.8 326.0,346.9 326.2,346.7 326.3,346.8 326.6,346.6 327.4,346.9 328.2,346.8 329.0,346.6 329.8,346.9 330.6,346.7 331.4,346.7 332.2,346.6 333.0,346.8 333.6,346.9 333.8,347.1 333.9,346.8 334.3,347.1 334.6,346.9 334.6,346.8 334.9,347.0 335.2,346.9 335.4,346.9 335.5,347.0 335.9,346.8 336.2,347.1 336.2,346.9 336.5,347.2 336.8,347.3 337.0,347.2 337.1,346.9 337.4,347.1 337.8,346.8 337.8,346.9 338.1,346.9 338.4,346.7 338.6,346.9 338.7,347.0 339.0,347.0 339.4,346.9 339.4,346.9 339.7,346.9 340.0,346.7 340.2,346.9 340.3,347.1 340.6,347.0 341.0,346.9 341.0,346.6 341.3,346.6 341.6,345.9 341.8,345.7 341.9,345.4 342.2,345.1 342.6,345.0 342.6,345.0 342.9,344.8 343.2,344.6 343.4,344.5 343.5,344.6 343.8,344.7 344.2,345.0 344.2,345.3 344.5,345.6 344.8,345.9 345.0,345.9 345.1,346.2 345.4,346.2 345.8,346.4 345.8,346.5 346.1,346.8 346.4,347.1 346.6,347.2 346.7,347.3 347.0,347.5 347.4,347.4 347.4,347.4 347.7,347.0 348.0,346.9 348.2,346.7 348.3,347.0 348.6,347.2 349.0,347.2 349.0,347.0 349.3,347.0 349.6,346.8 349.8,347.0 349.9,347.3 350.2,347.1 350.6,346.9 350.6,346.8 350.9,346.8 351.2,347.2 351.4,347.3 351.5,347.2 351.8,347.0 352.2,346.8 352.2,346.7 352.5,347.1 352.8,347.1 353.0,347.4 353.8,347.5 354.6,347.5 355.4,347.4 356.2,347.5 357.0,347.1 357.8,346.9 358.6,347.1 359.4,347.1 360.2,347.0 361.0,346.9 361.8,346.7 362.6,347.1 363.4,347.3 364.2,347.5 365.0,347.6 365.8,347.4 366.6,347.4 367.4,347.3 368.2,347.4 369.0,347.5 369.8,347.2 370.6,346.9 371.4,346.9 372.2,347.0 373.0,347.0 373.8,346.8 374.6,347.1 375.4,347.3 376.2,347.2 377.0,347.0 377.8,347.3 378.6,347.3 379.4,347.0 380.2,347.0 381.0,347.1 381.8,347.4 382.6,347.3 383.4,347.3 384.2,347.1 385.0,347.0 385.8,347.3 386.6,347.2 387.4,347.0 388.2,347.1 389.0,346.9 389.8,346.9 390.6,347.0 391.4,347.1 392.2,347.2 393.0,347.3 393.8,347.2 394.6,347.0 395.4,347.2 396.2,346.9 397.0,347.0 397.8,347.0 398.6,347.2 399.4,347.3 400.2,347.1 401.0,347.2 401.8,347.3 402.6,347.2 403.4,347.0 404.1,347.3 404.9,347.3 405.7,347.0 406.5,346.9 407.3,347.3 408.1,347.1 408.9,347.1 409.7,347.3 410.5,347.4 411.3,347.4 412.1,347.4 412.9,347.1 413.7,346.9 414.5,347.2 415.3,347.4 416.1,347.0 416.2,346.8 416.5,346.8 416.9,347.2 416.9,347.0 417.2,347.1 417.5,347.4 417.7,347.3 417.8,347.5 418.1,347.2 418.5,347.0 418.5,346.8 418.8,347.0 419.1,346.8 419.3,347.2 419.4,347.3 419.7,347.0 420.0,347.2 420.1,347.0 420.4,347.0 420.7,346.8 420.9,347.0 421.0,347.3 421.3,347.4 421.6,346.9 421.7,347.2 422.0,347.1 422.3,347.2 422.5,347.1 422.6,347.1 422.9,347.0 423.2,347.0 423.3,346.7 423.6,346.4 423.9,346.4 424.1,346.2 424.2,346.2 424.5,345.7 424.8,345.7 424.9,345.4 425.2,345.5 425.5,345.3 425.7,344.9 425.8,344.5 426.1,344.3 426.4,343.8 426.5,343.7 426.8,343.4 427.1,343.8 427.3,343.8 427.4,343.8 427.7,343.9 428.0,344.5 428.1,344.8 428.4,345.2 428.7,345.2 428.9,345.5 429.0,345.5 429.3,346.0 429.6,346.1 429.7,346.2 430.0,346.7 430.3,346.9 430.5,346.6 430.6,346.4 430.9,346.4 431.2,346.7 431.3,346.9 431.6,346.9 431.9,346.9 432.1,346.9 432.2,347.0 432.5,347.1 432.8,347.3 432.9,347.3 433.2,347.4 433.5,347.5 433.7,347.5 433.8,347.4 434.1,347.0 434.4,347.2 434.5,347.3 434.8,347.2 435.1,347.4 435.3,347.1 435.4,347.3 435.7,347.2 436.0,347.3 436.1,347.1 436.3,347.0 436.7,346.9 436.9,346.9 437.0,346.8 437.3,346.9 437.6,347.2 437.7,347.3 438.5,347.4 439.3,347.4 440.1,347.4 440.9,347.4 441.7,347.1 442.5,346.6 443.3,346.3 444.1,346.5 444.9,346.5 445.7,346.7 446.5,347.1 447.3,347.3 448.1,347.2 448.9,347.3 449.7,347.4 450.5,347.5 451.3,347.5 452.1,347.4 452.9,347.1 453.7,347.3 454.5,347.1 455.3,347.2 456.1,347.1 456.9,347.1 457.7,347.4 458.5,347.1 459.3,347.1 460.1,347.2 460.9,347.2 461.7,347.4 462.5,347.2 463.3,347.4 464.1,347.4 464.9,347.5 465.7,347.1 466.5,346.9 467.3,346.9 468.1,347.2 468.9,346.8 469.7,346.8 470.5,347.0 471.3,347.2 472.1,346.9 472.3,346.9 472.7,347.0 472.9,347.1 473.0,347.1 473.3,347.2 473.6,346.9 473.7,346.7 473.9,346.5 474.3,346.7 474.5,346.6 474.6,346.5 474.9,346.8 475.2,346.8 475.3,346.8 475.5,346.8 475.9,346.8 476.1,346.8 476.2,346.6 476.5,346.3 476.8,346.0 476.9,345.9 477.1,345.9 477.4,345.8 477.7,345.6 477.8,345.8 478.1,346.0 478.4,345.8 478.5,345.6 478.7,345.4 479.0,344.7 479.3,344.2 479.4,343.9 479.7,343.1 480.0,342.2 480.1,342.0 480.3,340.9 480.6,339.0 480.9,338.0 481.0,337.2 481.3,335.3 481.6,332.9 481.7,332.8 481.9,331.2 482.2,330.5 482.5,330.5 482.6,330.6 482.9,331.4 483.2,332.8 483.2,333.0 483.5,335.1 483.8,337.0 484.0,338.5 484.2,339.2 484.5,341.0 484.8,342.2 484.8,342.2 485.1,343.0 485.4,344.3 485.6,344.6 485.8,344.9 486.1,345.4 486.4,345.5 486.4,345.4 486.7,345.4 487.0,346.0 487.2,345.9 487.4,346.3 487.7,346.3 488.0,346.5 488.0,346.3 488.3,346.6 488.6,346.5 488.8,346.5 489.0,346.5 489.3,346.4 489.6,346.4 489.6,346.7 489.9,346.6 490.2,346.6 490.4,346.9 490.6,346.7 490.9,346.6 491.2,346.6 491.2,346.6 491.5,346.7 491.8,346.8 492.0,346.9 492.2,347.1 492.8,346.8 493.6,347.0 494.4,347.2 495.2,347.0 496.0,346.8 496.8,346.9 497.6,346.7 498.4,346.9 499.2,347.1 500.0,346.9 500.8,346.8 501.6,346.9 502.4,346.8 503.2,346.8 504.0,346.9 504.8,346.8 505.6,346.7 506.4,346.8 507.2,346.9 508.0,347.2 508.8,347.2 509.6,347.0 510.4,346.9 511.2,347.1 512.0,347.2 512.8,347.4 513.6,347.5 514.4,347.6 515.2,347.2 516.0,347.4 516.8,347.3 517.6,347.1 518.4,346.9 519.2,347.2 520.0,347.0 520.8,346.9 521.6,346.8 522.4,347.2 523.2,347.2 524.0,347.3 524.8,347.0 525.6,347.0 526.4,347.0 527.2,346.9 528.0,347.1 528.8,347.0 529.6,346.9 530.4,347.2 531.2,347.2 532.0,347.0 532.8,346.8 533.6,347.0 534.4,347.0 535.2,346.8 535.6,346.9 535.9,347.1 536.0,347.1 536.3,347.0 536.6,347.0 536.8,347.1 536.9,347.2 537.2,346.9 537.5,347.2 537.6,347.4 537.9,347.4 538.2,347.5 538.4,347.2 538.5,347.4 538.8,347.1 539.1,346.9 539.2,347.0 539.5,347.2 539.8,346.9 540.0,346.8 540.1,346.6 540.4,346.7 540.7,346.6 540.8,346.6 541.0,346.9 541.4,346.9 541.6,347.1 541.7,347.0 542.0,347.0 542.3,346.6 542.4,346.9 542.6,346.6 543.0,346.5 543.2,346.4 543.3,346.6 543.6,346.3 543.9,346.3 544.0,346.2 544.2,345.6 544.6,345.4 544.8,344.9 544.9,345.0 545.2,344.4 545.5,343.8 545.6,344.0 545.8,343.5 546.2,343.2 546.4,343.0 546.5,343.2 546.8,343.1 547.1,343.4 547.2,343.4 547.4,344.1 547.8,344.3 548.0,344.7 548.1,344.8 548.4,345.3 548.7,345.7 548.8,345.9 549.0,345.9 549.4,346.1 549.6,346.1 549.7,346.5 550.0,346.5 550.3,346.4 550.4,346.6 550.6,346.7 551.0,347.0 551.2,346.7 551.3,346.7 551.6,346.6 551.9,346.8 552.0,346.8 552.2,346.8 552.6,347.1 552.8,347.2 552.9,347.3 553.2,347.5 553.5,347.2 553.6,347.3 553.8,347.2 554.2,346.9 554.4,347.2 554.5,346.9 554.8,346.7 555.1,346.7 555.2,346.7 555.4,347.1 555.8,347.3 556.0,347.2 556.1,347.1 556.4,347.3 556.7,347.4 556.8,347.3 557.0,347.2 557.6,347.0 558.4,346.9 559.2,347.0 560.0,347.1 560.8,347.3 561.6,347.4 562.4,347.5 563.1,347.2 563.9,346.9 564.7,347.2 565.5,347.2 566.3,346.9 567.1,347.1 567.9,346.9 568.7,346.8 569.5,346.8 570.3,346.9 571.1,347.0 571.9,346.7 572.7,346.9 573.5,347.0 574.3,346.9 575.1,347.0 575.5,347.1 575.8,346.7 575.9,346.7 576.1,346.8 576.5,346.9 576.7,346.9 576.8,346.7 577.1,346.9 577.4,347.0 577.5,346.7 577.7,346.6 578.1,346.8 578.3,346.5 578.4,346.5 578.7,346.7 579.0,346.8 579.1,346.5 579.3,346.6 579.6,346.4 579.9,346.4 580.0,346.5 580.3,346.1 580.6,345.9 580.7,345.8 580.9,345.7 581.2,345.4 581.5,345.3 581.6,345.4 581.9,345.3 582.2,344.9 582.3,345.0 582.5,345.1 582.8,344.7 583.1,344.0 583.2,344.1 583.5,343.3 583.8,342.1 583.9,341.8 584.1,340.7 584.4,339.5 584.7,337.8 584.8,337.5 585.1,335.8 585.4,333.5 585.5,332.7 585.7,331.1 586.0,328.6 586.3,326.7 586.4,326.6 586.7,324.8 587.0,324.3 587.1,324.2 587.3,324.6 587.6,326.3 587.9,328.1 588.0,328.6 588.3,331.1 588.6,333.6 588.7,334.2 588.9,335.4 589.2,337.6 589.5,339.4 589.6,339.5 589.9,340.8 590.2,341.8 590.3,342.2 590.5,343.1 590.8,343.6 591.1,344.1 591.2,344.2 591.5,344.8 591.8,345.5 591.9,345.2 592.1,345.2 592.4,345.7 592.7,346.1 592.8,345.8 593.1,345.9 593.4,346.0 593.5,346.0 593.7,346.0 594.0,346.2 594.3,346.1 594.4,345.9 594.7,345.9 595.0,346.0 595.1,345.9 595.3,346.2 595.6,346.5 595.9,346.4 595.9,346.6 596.3,346.8 596.6,346.6 596.7,346.6 596.9,346.5 597.2,346.8 597.5,346.8 597.5,346.5 597.9,346.4 598.2,346.7 598.3,346.6 599.1,346.8 599.9,346.7 600.7,346.9 601.5,347.1 602.3,346.7 603.1,346.8 603.9,346.7 604.7,346.8 605.5,347.0 606.1,347.1 606.3,346.8 606.4,346.6 606.7,346.8 607.1,346.8 607.1,346.6 607.4,346.5 607.7,346.6 607.9,346.5 608.0,346.6 608.3,346.5 608.7,346.5 608.7,346.5 609.0,346.6 609.3,346.7 609.5,346.4 609.6,346.6 609.9,346.5 610.3,346.4 610.3,346.5 610.6,346.6 610.9,346.6 611.1,346.8 611.2,346.5 611.5,346.4 611.8,346.4 611.9,346.3 612.2,346.1 612.5,346.0 612.7,346.2 612.8,346.4 613.1,346.4 613.4,346.4 613.5,346.4 613.8,346.0 614.1,345.7 614.3,345.7 614.4,345.4 614.7,345.2 615.0,344.7 615.1,344.5 615.4,344.3 615.7,343.6 615.9,343.6 616.0,343.5 616.3,342.6 616.6,341.3 616.7,341.0 617.0,340.0 617.3,338.6 617.5,337.6 617.6,337.1 617.9,335.3 618.2,333.6 618.3,333.0 618.6,331.2 618.9,329.4 619.1,328.5 619.2,327.8 619.5,326.8 619.8,326.0 619.9,326.0 620.2,326.1 620.5,326.9 620.7,327.7 620.8,328.1 621.1,329.6 621.4,331.7 621.5,332.1 621.8,333.7 622.1,335.2 622.3,336.4 622.4,337.1 622.7,338.6 623.0,339.8 623.1,340.4 623.4,341.7 623.7,342.4 623.9,343.0 624.0,343.3 624.3,343.9 624.6,344.2 624.7,344.6 625.0,345.1 625.3,345.4 625.5,345.3 625.6,345.4 625.9,345.4 626.2,346.0 626.3,345.7 626.6,345.8 626.9,346.2 627.1,346.0 627.2,345.9 627.5,345.9 627.8,345.9 627.9,346.1 628.1,346.5 628.5,346.3 628.7,346.2 628.8,346.5 629.1,346.5 629.4,346.5 629.5,346.3 629.7,346.3 630.1,346.8 630.3,346.5 630.4,346.5 630.7,346.7 631.0,347.0 631.1,347.1 631.3,347.0 631.7,347.2 631.9,347.1 632.0,346.9 632.3,346.8 632.6,347.0 632.7,347.1 632.9,346.8 633.3,346.7 633.5,347.0 633.6,346.7 634.3,347.0 635.1,346.9 635.9,346.8 636.7,346.7 637.5,346.8 638.3,347.2 639.1,346.9 639.9,347.2 640.7,347.0 641.5,346.8 642.3,347.1 643.0,347.0 643.8,346.8 644.6,346.9 645.4,347.1 646.2,347.3 647.0,347.2 647.8,346.8 648.6,347.0 649.4,347.0 650.2,347.1 651.0,347.1 651.8,346.6 652.6,346.6 653.4,346.4 654.2,345.9 655.0,345.6 655.8,345.6 656.6,345.7 657.4,345.9 658.2,346.0 659.0,346.2 659.8,346.7 660.6,346.8 661.4,347.0 662.2,347.2 663.0,347.3 663.8,347.1 664.6,347.3 665.4,347.4 666.2,347.6 667.0,347.5 667.8,347.5 668.6,347.5 669.4,347.2 670.2,347.3 671.0,347.2 671.8,347.4 672.6,347.1 673.4,347.1 674.2,347.0 675.0,347.3 675.8,347.1 676.6,347.3 677.4,347.5 678.2,347.6 679.0,347.2 679.8,347.4 680.6,347.5 681.4,347.4 682.2,347.4 683.0,347.1" stroke="#1762b2" stroke-width="2.3"/>
<path d="M260.8,346.6 261.0,346.6 261.1,346.6 261.3,346.5 261.5,346.5 261.6,346.5 261.8,346.5 261.9,346.4 262.1,346.4 262.3,346.4 262.4,346.3 262.6,346.3 262.7,346.3 262.9,346.2 263.0,346.2 263.2,346.2 263.4,346.1 263.5,346.1 263.7,346.0 263.8,345.9 264.0,345.9 264.2,345.8 264.3,345.7 264.5,345.7 264.6,345.6 264.8,345.5 265.0,345.4 265.1,345.3 265.3,345.2 265.4,345.0 265.6,344.9 265.8,344.7 265.9,344.6 266.1,344.4 266.2,344.2 266.4,343.9 266.6,343.7 266.7,343.4 266.9,343.0 267.0,342.7 267.2,342.2 267.4,341.7 267.5,341.1 267.7,340.3 267.8,339.4 268.0,338.0 268.2,336.1 268.3,333.1 268.5,328.7 268.6,322.0 268.8,312.0 269.0,297.7 269.1,278.0 269.3,252.4 269.4,220.8 269.6,184.1 269.8,144.6 269.9,105.7 270.1,71.9 270.2,48.6 270.4,40.2 270.6,48.6 270.7,71.9 270.9,105.7 271.0,144.6 271.2,184.1 271.4,220.8 271.5,252.4 271.7,278.0 271.8,297.7 272.0,312.0 272.2,322.0 272.3,328.7 272.5,333.1 272.6,336.0 272.8,338.0 273.0,339.3 273.1,340.3 273.3,341.1 273.4,341.7 273.6,342.2 273.8,342.6 273.9,343.0 274.1,343.4 274.2,343.7 274.4,343.9 274.6,344.2 274.7,344.4 274.9,344.6 275.0,344.7 275.2,344.9 275.4,345.0 275.5,345.1 275.7,345.3 275.8,345.4 276.0,345.5 276.2,345.6 276.3,345.6 276.5,345.7 276.6,345.8 276.8,345.8 277.0,345.9 277.1,346.0 277.3,346.0 277.4,346.1 277.6,346.1 277.8,346.1 277.9,346.2 278.1,346.2 278.2,346.2 278.4,346.3 278.5,346.3 278.7,346.3 278.9,346.4 279.0,346.4 279.2,346.4 279.3,346.4 279.5,346.4 279.7,346.4 279.8,346.5Z" fill="#1762b2" fill-opacity="0.3" stroke="none"/>
<path d="M310.5,346.9 310.7,346.9 310.8,346.9 311.0,346.9 311.2,346.9 311.3,346.9 311.5,346.9 311.6,346.9 311.8,346.9 312.0,346.9 312.1,346.9 312.3,346.8 312.4,346.8 312.6,346.8 312.7,346.8 312.9,346.8 313.1,346.8 313.2,346.8 313.4,346.7 313.5,346.7 313.7,346.7 313.9,346.7 314.0,346.6 314.2,346.6 314.3,346.6 314.5,346.6 314.7,346.5 314.8,346.5 315.0,346.4 315.1,346.4 315.3,346.3 315.5,346.3 315.6,346.2 315.8,346.2 315.9,346.1 316.1,346.0 316.3,345.9 316.4,345.8 316.6,345.7 316.7,345.5 316.9,345.4 317.1,345.2 317.2,345.0 317.4,344.7 317.5,344.4 317.7,344.0 317.9,343.4 318.0,342.6 318.2,341.3 318.3,339.2 318.5,336.0 318.7,331.1 318.8,323.9 319.0,313.9 319.1,300.9 319.3,285.1 319.5,267.3 319.6,249.1 319.8,232.8 319.9,221.4 320.1,217.2 320.3,221.4 320.4,232.8 320.6,249.1 320.7,267.3 320.9,285.1 321.1,300.9 321.2,313.9 321.4,323.9 321.5,331.1 321.7,336.0 321.9,339.2 322.0,341.3 322.2,342.6 322.3,343.4 322.5,344.0 322.7,344.4 322.8,344.7 323.0,345.0 323.1,345.2 323.3,345.4 323.5,345.5 323.6,345.7 323.8,345.8 323.9,345.9 324.1,346.0 324.3,346.1 324.4,346.2 324.6,346.2 324.7,346.3 324.9,346.3 325.1,346.4 325.2,346.4 325.4,346.5 325.5,346.5 325.7,346.6 325.9,346.6 326.0,346.6 326.2,346.7 326.3,346.7 326.5,346.7 326.7,346.7 326.8,346.7 327.0,346.8 327.1,346.8 327.3,346.8 327.5,346.8 327.6,346.8 327.8,346.8 327.9,346.9 328.1,346.9 328.2,346.9 328.4,346.9 328.6,346.9 328.7,346.9 328.9,346.9 329.0,346.9 329.2,346.9 329.4,346.9 329.5,346.9Z" fill="#1762b2" fill-opacity="0.3" stroke="none"/>
<path d="M260.0,396.6 260.2,396.6 260.3,396.6 260.5,396.6 260.7,396.5 260.8,396.5 261.0,396.5 261.1,396.5 261.3,396.5 261.5,396.5 261.6,396.5 261.8,396.5 261.9,396.4 262.1,396.4 262.2,396.4 262.4,396.4 262.6,396.3 262.7,396.3 262.9,396.3 263.0,396.3 263.2,396.2 263.4,396.2 263.5,396.2 263.7,396.1 263.8,396.1 264.0,396.1 264.2,396.0 264.3,396.0 264.5,395.9 264.6,395.8 264.8,395.8 265.0,395.7 265.1,395.6 265.3,395.5 265.4,395.4 265.6,395.3 265.8,395.2 265.9,395.0 266.1,394.9 266.2,394.7 266.4,394.4 266.6,394.1 266.7,393.7 266.9,393.1 267.0,392.3 267.2,391.1 267.4,389.5 267.5,387.3 267.7,384.3 267.8,380.3 268.0,375.1 268.2,368.7 268.3,361.1 268.5,352.2 268.6,342.4 268.8,332.1 269.0,321.8 269.1,312.4 269.3,304.7 269.4,299.7 269.6,297.9 269.8,299.7 269.9,304.7 270.1,312.4 270.2,321.8 270.4,332.1 270.6,342.4 270.7,352.2 270.9,361.0 271.0,368.7 271.2,375.1 271.4,380.3 271.5,384.3 271.7,387.3 271.8,389.5 272.0,391.1 272.2,392.2 272.3,393.1 272.5,393.6 272.6,394.1 272.8,394.4 273.0,394.6 273.1,394.9 273.3,395.0 273.4,395.2 273.6,395.3 273.8,395.4 273.9,395.5 274.1,395.6 274.2,395.7 274.4,395.7 274.6,395.8 274.7,395.9 274.9,395.9 275.0,396.0 275.2,396.0 275.4,396.1 275.5,396.1 275.7,396.1 275.8,396.2 276.0,396.2 276.2,396.2 276.3,396.3 276.5,396.3 276.6,396.3 276.8,396.3 277.0,396.3 277.1,396.4 277.3,396.4 277.4,396.4 277.6,396.4 277.7,396.4 277.9,396.4 278.1,396.4 278.2,396.5 278.4,396.5 278.5,396.5 278.7,396.5 278.9,396.5 279.0,396.5 M309.7,396.7 309.9,396.7 310.0,396.7 310.2,396.7 310.4,396.7 310.5,396.7 310.7,396.6 310.8,396.6 311.0,396.6 311.2,396.6 311.3,396.6 311.5,396.6 311.6,396.6 311.8,396.6 311.9,396.6 312.1,396.6 312.3,396.5 312.4,396.5 312.6,396.5 312.7,396.5 312.9,396.5 313.1,396.4 313.2,396.4 313.4,396.4 313.5,396.4 313.7,396.3 313.9,396.3 314.0,396.3 314.2,396.2 314.3,396.2 314.5,396.2 314.7,396.1 314.8,396.1 315.0,396.0 315.1,395.9 315.3,395.9 315.5,395.8 315.6,395.7 315.8,395.6 315.9,395.5 316.1,395.3 316.3,395.1 316.4,394.9 316.6,394.6 316.7,394.2 316.9,393.6 317.1,392.7 317.2,391.5 317.4,389.7 317.5,387.2 317.7,383.8 317.9,379.4 318.0,373.9 318.2,367.2 318.3,359.5 318.5,351.2 318.7,342.7 318.8,334.7 319.0,328.0 319.1,323.5 319.3,321.9 319.5,323.5 319.6,328.0 319.8,334.7 319.9,342.7 320.1,351.2 320.3,359.5 320.4,367.2 320.6,373.9 320.7,379.4 320.9,383.8 321.1,387.2 321.2,389.7 321.4,391.5 321.5,392.7 321.7,393.6 321.9,394.2 322.0,394.6 322.2,394.9 322.3,395.1 322.5,395.3 322.7,395.5 322.8,395.6 323.0,395.7 323.1,395.8 323.3,395.9 323.5,395.9 323.6,396.0 323.8,396.1 323.9,396.1 324.1,396.2 324.3,396.2 324.4,396.2 324.6,396.3 324.7,396.3 324.9,396.3 325.1,396.4 325.2,396.4 325.4,396.4 325.5,396.4 325.7,396.5 325.9,396.5 326.0,396.5 326.2,396.5 326.3,396.5 326.5,396.6 326.7,396.6 326.8,396.6 327.0,396.6 327.1,396.6 327.3,396.6 327.4,396.6 327.6,396.6 327.8,396.6 327.9,396.6 328.1,396.7 328.2,396.7 328.4,396.7 328.6,396.7 328.7,396.7" stroke="#e0455a" stroke-width="1.5" stroke-opacity="0.5"/>
<path d="M43.8,297.4 44.6,297.4 45.4,297.3 46.2,297.3 47.0,297.4 47.8,297.5 48.6,297.5 49.4,297.3 50.2,297.3 51.0,297.2 51.8,297.1 52.6,297.1 53.4,297.0 54.2,297.2 55.0,297.1 55.8,297.0 56.6,297.0 57.4,297.2 58.2,297.1 59.0,297.2 59.8,297.2 60.6,297.4 61.4,297.5 62.2,297.4 63.0,297.4 63.8,297.5 64.6,297.4 65.4,297.5 66.2,297.5 67.0,297.4 67.8,297.5 68.6,297.4 69.4,297.2 70.2,297.3 71.0,297.4 71.8,297.4 72.6,297.3 73.4,297.3 74.2,297.4 75.0,297.5 75.8,297.3 76.6,297.2 77.4,297.2 78.2,297.4 79.0,297.5 79.8,297.2 80.6,297.4 81.4,297.2 82.2,297.3 83.0,297.3 83.8,297.4 84.5,297.3 85.3,297.1 86.1,297.2 86.9,297.4 87.7,297.5 88.5,297.3 89.3,297.2 90.1,297.3 90.9,297.4 91.7,297.3 92.5,297.4 93.3,297.6 94.1,297.4 94.9,297.3 95.7,297.4 96.5,297.5 97.3,297.3 98.1,297.2 98.9,297.2 99.7,297.3 100.5,297.2 101.3,297.3 102.1,297.3 102.9,297.3 103.7,297.2 104.5,297.4 105.3,297.6 106.1,297.5 106.9,297.5 107.7,297.3 108.5,297.5 109.3,297.4 110.1,297.5 110.9,297.6 111.7,297.4 112.5,297.5 113.3,297.3 114.1,297.1 114.9,297.2 115.7,297.4 116.5,297.5 117.3,297.6 118.1,297.5 118.9,297.6 119.7,297.5 120.5,297.3 121.3,297.3 122.1,297.4 122.9,297.4 123.7,297.4 124.5,297.2 125.3,297.2 126.1,297.2 126.9,297.2 127.7,297.2 128.5,297.1 129.3,297.0 130.1,297.0 130.9,297.2 131.7,297.4 132.5,297.2 133.3,297.2 134.1,297.2 134.9,297.1 135.7,297.2 136.5,297.4 137.3,297.2 138.1,297.3 138.9,297.4 139.7,297.4 140.5,297.5 141.3,297.5 142.1,297.3 142.9,297.4 143.7,297.5 144.5,297.3 145.3,297.4 146.1,297.4 146.9,297.2 147.7,297.0 148.5,297.2 149.3,297.3 150.1,297.2 150.9,297.2 151.0,297.3 151.3,297.5 151.6,297.3 151.7,297.4 152.0,297.2 152.3,297.1 152.5,297.0 152.6,297.1 152.9,297.2 153.2,297.1 153.3,297.0 153.6,297.0 153.9,296.9 154.1,296.9 154.2,296.9 154.5,297.0 154.8,296.9 154.9,296.9 155.2,296.9 155.5,297.0 155.7,296.8 155.8,296.9 156.1,296.3 156.4,295.3 156.5,295.3 156.8,294.0 157.1,292.7 157.3,292.1 157.4,292.2 157.7,293.0 158.0,294.2 158.1,294.2 158.4,295.3 158.7,296.1 158.9,296.5 159.0,296.6 159.3,296.7 159.6,297.1 159.7,297.1 160.0,296.9 160.3,297.2 160.5,297.3 160.6,297.2 160.9,297.2 161.2,297.4 161.3,297.3 161.6,297.2 161.9,297.1 162.1,297.2 162.2,297.3 162.5,297.4 162.8,297.5 162.9,297.3 163.2,297.2 163.5,297.4 163.7,297.4 163.8,297.4 164.4,297.4 165.2,297.3 166.0,297.5 166.8,297.4 167.6,297.3 168.4,297.2 169.2,297.1 170.0,297.3 170.8,297.4 171.6,297.2 172.4,297.1 173.2,297.2 174.0,297.2 174.8,297.2 175.6,297.4 176.4,297.3 177.2,297.3 178.0,297.5 178.8,297.4 179.6,297.4 180.4,297.3 180.8,297.2 181.1,297.3 181.2,297.4 181.5,297.2 181.8,297.2 182.0,297.2 182.1,297.1 182.4,297.3 182.7,297.3 182.8,297.2 183.0,297.1 183.4,297.3 183.6,297.1 183.7,297.2 184.0,297.0 184.3,297.0 184.4,296.9 184.6,297.1 185.0,297.0 185.2,296.9 185.3,296.8 185.6,296.7 185.9,296.8 186.0,296.9 186.2,296.9 186.6,296.8 186.8,296.5 186.9,296.5 187.2,295.9 187.5,295.7 187.6,295.5 187.8,295.2 188.2,295.4 188.4,295.7 188.5,295.6 188.8,295.7 189.1,296.3 189.2,296.5 189.4,296.6 189.8,297.0 190.0,296.9 190.1,296.7 190.4,296.8 190.7,296.7 190.8,297.0 191.0,297.1 191.4,297.0 191.6,297.0 191.7,296.9 192.0,297.1 192.3,297.2 192.4,297.4 192.6,297.3 193.0,297.5 193.2,297.3 193.3,297.3 193.6,297.2 193.9,297.1 194.0,297.3 194.2,297.5 194.6,297.5 194.8,297.3 194.9,297.1 195.2,297.1 195.6,297.1 196.4,297.3 197.2,297.1 198.0,297.2 198.8,297.3 199.6,297.1 200.4,297.1 201.2,297.3 202.0,297.3 202.8,297.3 203.6,297.4 204.4,297.4 205.2,297.3 206.0,297.3 206.8,297.4 207.6,297.5 208.4,297.6 209.2,297.5 210.0,297.3 210.8,297.1 211.6,297.2 212.4,297.3 213.2,297.1 214.0,297.3 214.8,297.4 215.6,297.4 216.4,297.1 217.2,297.3 218.0,297.3 218.8,297.3 219.6,297.3 220.4,297.4 221.2,297.3 222.0,297.5 222.8,297.6 223.6,297.6 224.4,297.5 225.2,297.3 226.0,297.3 226.8,297.2 227.6,297.4 228.4,297.4 229.2,297.5 230.0,297.5 230.8,297.6 231.6,297.5 232.4,297.3 233.2,297.3 234.0,296.9 234.8,296.7 235.6,296.2 236.4,296.4 237.2,296.6 238.0,296.8 238.8,297.2 239.6,297.1 240.4,297.3 241.2,297.4 241.9,297.1 242.0,297.3 242.2,297.3 242.5,297.4 242.8,297.3 242.9,297.2 243.2,297.4 243.5,297.1 243.6,297.2 243.8,297.0 244.1,297.0 244.3,296.9 244.5,297.1 244.8,297.1 245.1,297.1 245.1,297.0 245.4,297.1 245.7,297.1 245.9,296.8 246.1,296.8 246.4,296.8 246.7,296.4 246.7,296.5 247.0,296.0 247.3,295.3 247.5,295.0 247.7,294.8 248.0,294.0 248.3,293.4 248.3,293.4 248.6,293.8 248.9,294.8 249.1,295.2 249.3,295.6 249.6,296.2 249.9,296.7 249.9,296.7 250.2,296.7 250.5,296.9 250.7,296.8 250.9,297.0 251.2,296.8 251.5,297.1 251.5,297.1 251.8,297.2 252.1,297.0 252.3,297.1 252.5,297.1 252.8,297.0 253.1,297.2 253.1,297.0 253.4,297.0 253.7,296.9 253.9,297.1 254.0,297.3 254.4,297.0 254.7,297.1 254.7,297.1 255.5,297.2 256.3,297.2 257.1,297.1 257.9,297.3 258.7,297.0 259.5,296.9 260.3,297.0 261.1,296.8 261.9,296.6 262.7,296.6 263.2,296.5 263.4,296.4 263.5,296.6 263.7,296.6 263.8,296.6 264.0,296.4 264.2,296.6 264.3,296.3 264.5,296.4 264.6,296.4 264.8,296.4 265.0,296.4 265.1,296.2 265.3,296.1 265.4,296.0 265.6,295.8 265.8,295.5 265.9,295.5 266.1,295.4 266.2,295.3 266.4,295.1 266.6,294.6 266.7,294.3 266.9,294.1 267.0,293.7 267.2,293.1 267.4,291.9 267.5,290.5 267.7,288.4 267.8,285.0 268.0,280.0 268.2,273.0 268.3,263.5 268.5,251.1 268.6,235.6 268.8,217.8 269.0,198.6 269.1,179.7 269.3,163.1 269.4,151.4 269.6,147.4 269.8,151.3 269.9,162.7 270.1,179.3 270.2,198.0 270.4,217.4 270.6,235.5 270.7,250.8 270.9,263.4 271.0,272.9 271.2,279.8 271.4,284.6 271.5,287.9 271.7,290.1 271.8,291.7 272.0,292.7 272.2,293.6 272.3,294.1 272.5,294.3 272.6,294.8 272.8,295.0 273.0,295.2 273.1,295.5 273.3,295.6 273.4,295.6 273.6,295.8 273.8,295.8 273.9,296.1 274.1,296.0 274.2,296.2 274.4,296.1 274.6,296.0 274.7,296.1 274.9,296.1 275.0,296.3 275.2,296.2 275.4,296.5 275.5,296.6 275.7,296.7 275.8,296.8 276.3,297.0 276.8,297.0 277.1,297.0 277.1,296.7 277.5,296.6 277.8,296.6 277.9,296.9 278.1,296.8 278.4,296.8 278.7,296.7 278.7,296.7 279.1,296.9 279.4,296.9 279.5,297.0 279.7,296.7 280.0,296.6 280.3,296.5 280.3,296.7 280.7,296.3 281.0,296.1 281.1,295.7 281.3,295.3 281.6,293.7 281.9,291.6 281.9,291.5 282.3,288.3 282.6,284.9 282.7,283.4 282.9,281.8 283.2,280.4 283.5,280.6 283.5,280.8 283.9,283.1 284.2,286.3 284.3,287.7 284.5,289.9 284.8,292.8 285.1,294.7 285.1,295.0 285.5,296.0 285.8,296.6 285.9,296.6 286.1,296.8 286.4,296.9 286.7,296.9 286.7,297.1 287.1,297.0 287.4,296.9 287.5,296.8 287.7,296.8 288.0,296.9 288.3,297.1 288.3,297.0 288.7,297.0 289.0,297.1 289.1,297.1 289.3,297.1 289.6,297.1 289.9,297.0 290.7,296.9 291.5,297.0 292.3,297.0 293.1,297.2 293.9,297.1 294.7,297.3 295.5,297.1 296.3,297.0 297.1,297.1 297.9,297.1 298.7,297.1 299.5,297.2 300.3,297.1 301.1,297.2 301.9,297.4 302.7,297.3 303.5,297.3 304.3,297.4 305.1,297.4 305.9,297.2 306.7,297.0 307.5,296.9 308.3,296.9 309.1,296.9 309.9,297.0 310.7,297.0 311.5,297.0 312.3,297.0 313.0,297.1 313.1,297.0 313.2,296.8 313.3,296.8 313.5,296.8 313.6,297.0 313.8,297.0 313.9,296.9 314.0,296.8 314.1,296.6 314.3,296.5 314.4,296.8 314.6,296.8 314.7,296.7 314.8,296.7 314.9,296.5 315.1,296.6 315.2,296.5 315.4,296.3 315.5,296.5 315.6,296.6 315.7,296.5 315.9,296.3 316.0,296.3 316.2,296.2 316.3,296.2 316.4,296.0 316.5,296.0 316.7,295.7 316.8,295.4 317.0,295.2 317.1,295.1 317.2,294.7 317.3,294.4 317.5,293.9 317.6,292.5 317.8,290.5 317.9,289.7 318.0,287.6 318.1,283.3 318.3,277.4 318.4,269.6 318.6,259.9 318.7,256.2 318.8,249.3 318.9,238.6 319.1,229.0 319.2,221.8 319.4,219.3 319.5,219.6 319.6,221.6 319.7,228.6 319.9,238.4 320.0,249.4 320.2,260.0 320.3,263.6 320.4,269.7 320.5,277.4 320.7,283.2 320.8,287.6 321.0,290.4 321.1,291.3 321.2,292.6 321.3,293.8 321.5,294.8 321.6,295.0 321.8,295.4 321.9,295.6 322.0,295.6 322.1,295.7 322.3,295.7 322.4,296.0 322.6,296.2 322.7,296.2 322.8,296.3 322.9,296.4 323.1,296.5 323.2,296.5 323.4,296.7 323.5,296.7 323.6,296.5 323.7,296.4 323.9,296.7 324.0,296.9 324.2,296.9 324.2,296.7 324.4,296.9 324.5,297.0 324.7,296.8 324.8,296.8 325.0,296.9 325.0,296.7 325.2,296.6 325.3,296.7 325.5,297.0 325.6,297.2 325.8,297.0 326.6,297.2 327.4,297.3 328.2,297.4 329.0,297.4 329.8,297.5 330.6,297.4 331.4,297.5 332.2,297.4 333.0,297.2 333.4,297.2 333.7,297.2 333.8,297.1 334.1,297.1 334.4,297.1 334.6,297.2 334.7,297.1 335.0,297.0 335.3,297.1 335.4,297.1 335.7,297.1 336.0,297.2 336.2,297.1 336.3,297.1 336.6,297.1 336.9,297.2 337.0,297.3 337.2,297.3 337.6,297.3 337.8,297.1 337.9,297.3 338.2,297.2 338.5,297.1 338.6,297.0 338.8,297.0 339.2,297.1 339.4,297.2 339.5,297.1 339.8,297.1 340.1,296.8 340.2,296.8 340.4,296.6 340.8,296.4 341.0,296.2 341.1,296.3 341.4,296.1 341.7,295.6 341.8,295.5 342.0,295.4 342.4,295.2 342.6,295.0 342.7,295.0 343.0,294.9 343.3,294.9 343.4,294.7 343.6,294.9 344.0,295.1 344.2,295.7 344.3,295.7 344.6,296.1 344.9,296.5 345.0,296.6 345.2,296.6 345.6,296.7 345.8,296.6 345.9,296.9 346.2,297.0 346.5,297.1 346.6,297.0 346.8,297.0 347.2,297.0 347.4,297.2 347.5,297.3 347.8,297.4 348.1,297.5 348.2,297.3 348.4,297.2 348.8,297.1 349.0,297.4 349.1,297.2 349.4,297.1 349.7,297.0 349.8,297.3 350.0,297.4 350.4,297.3 350.6,297.4 350.7,297.5 351.0,297.4 351.3,297.2 351.4,297.3 351.6,297.2 352.0,297.1 352.2,297.3 352.3,297.3 352.6,297.2 353.0,297.3 353.8,297.2 354.6,297.0 355.4,297.1 356.2,297.1 357.0,297.0 357.8,297.0 358.6,297.2 359.4,297.2 360.2,297.3 361.0,297.3 361.8,297.2 362.6,297.0 363.4,297.2 364.2,297.3 365.0,297.2 365.8,297.1 366.6,297.3 367.4,297.5 368.2,297.3 369.0,297.3 369.8,297.3 370.6,297.2 371.4,297.1 372.2,297.1 373.0,297.2 373.8,297.3 374.6,297.3 375.4,297.1 376.2,297.1 377.0,297.1 377.8,297.1 378.6,297.1 379.4,297.4 380.2,297.2 381.0,297.4 381.8,297.3 382.6,297.4 383.4,297.3 384.2,297.3 385.0,297.2 385.8,297.1 386.6,297.3 387.4,297.4 388.2,297.3 389.0,297.4 389.8,297.3 390.6,297.5 391.4,297.2 392.2,297.2 393.0,297.1 393.8,297.2 394.6,297.4 395.4,297.5 396.2,297.4 397.0,297.3 397.8,297.4 398.6,297.2 399.4,297.1 400.2,297.3 401.0,297.3 401.8,297.5 402.6,297.2 403.4,297.2 404.1,297.1 404.9,297.0 405.7,296.9 406.5,296.9 407.3,297.0 408.1,297.1 408.9,297.2 409.7,297.1 410.5,297.3 411.3,297.3 412.1,297.5 412.9,297.2 413.7,297.2 414.5,297.2 415.3,297.2 415.8,297.4 416.1,297.2 416.5,297.4 416.8,297.3 416.9,297.2 417.1,297.2 417.4,297.3 417.7,297.2 418.1,297.0 418.4,297.3 418.5,297.2 418.7,297.0 419.0,297.2 419.3,297.2 419.6,297.1 420.0,297.1 420.1,297.2 420.3,297.1 420.6,297.1 420.9,297.3 421.2,297.2 421.6,297.1 421.7,296.9 421.9,297.1 422.2,297.1 422.5,297.0 422.8,296.9 423.2,296.7 423.3,296.8 423.5,296.7 423.8,296.7 424.1,296.4 424.4,296.2 424.8,295.7 424.9,295.5 425.1,295.6 425.4,295.3 425.7,294.9 426.0,294.6 426.4,294.4 426.5,294.2 426.7,294.1 427.0,294.3 427.3,294.7 427.6,294.9 428.0,295.3 428.1,295.3 428.3,295.6 428.6,295.8 428.9,296.1 429.2,296.3 429.6,296.6 429.7,296.5 429.9,296.7 430.2,296.9 430.5,296.8 430.8,296.8 431.2,297.0 431.3,297.1 431.5,297.1 431.8,297.2 432.1,297.2 432.4,297.1 432.8,297.1 432.9,297.3 433.1,297.2 433.4,297.3 433.7,297.2 434.0,297.2 434.4,297.4 434.5,297.4 434.7,297.4 435.0,297.1 435.3,297.2 435.6,297.0 435.9,297.3 436.1,297.4 436.3,297.4 436.6,297.2 436.9,297.3 437.2,297.2 437.7,297.3 438.5,297.2 439.3,297.0 440.1,297.1 440.9,296.8 441.7,296.5 442.5,296.0 443.3,295.9 444.1,296.4 444.9,296.7 445.7,297.1 446.5,297.1 447.3,297.0 448.1,297.0 448.9,296.9 449.7,296.9 450.5,297.1 451.3,297.0 452.1,296.9 452.9,297.0 453.7,297.0 454.5,297.2 455.3,297.4 456.1,297.5 456.9,297.6 457.7,297.4 458.5,297.4 459.3,297.3 460.1,297.4 460.9,297.4 461.7,297.4 462.5,297.2 463.3,297.0 464.1,297.2 464.9,297.2 465.7,297.2 466.5,297.3 467.3,297.1 468.1,297.1 468.9,297.1 469.7,297.1 470.5,297.0 471.2,296.8 471.3,297.1 471.6,296.9 471.9,297.0 472.1,297.1 472.2,296.9 472.5,296.9 472.8,296.8 472.9,296.7 473.2,296.6 473.5,296.8 473.7,296.7 473.8,296.7 474.1,296.6 474.4,296.4 474.5,296.5 474.7,296.6 475.1,296.6 475.3,296.4 475.4,296.2 475.7,296.1 476.0,296.1 476.1,296.1 476.3,295.9 476.7,295.7 476.9,295.4 477.0,295.5 477.3,295.1 477.6,294.7 477.7,294.7 477.9,293.9 478.3,293.1 478.5,292.4 478.6,292.0 478.9,290.2 479.2,288.2 479.3,288.1 479.5,285.9 479.9,283.1 480.1,281.4 480.2,280.1 480.5,277.2 480.8,274.6 480.9,274.6 481.1,273.4 481.5,273.5 481.7,274.2 481.8,275.0 482.1,277.4 482.4,280.1 482.5,280.6 482.7,283.1 483.1,286.1 483.2,287.6 483.4,288.5 483.7,290.6 484.0,292.0 484.0,292.2 484.3,293.4 484.7,294.0 484.8,294.3 485.0,294.5 485.3,295.0 485.6,295.3 485.6,295.3 485.9,295.7 486.3,295.9 486.4,295.8 486.6,295.8 486.9,296.1 487.2,296.1 487.2,296.2 487.5,296.3 487.9,296.4 488.0,296.5 488.2,296.7 488.5,296.5 488.8,296.8 488.8,296.6 489.1,296.5 489.5,296.7 489.6,296.8 489.8,296.8 490.1,296.7 490.4,296.9 490.4,296.8 490.7,296.9 491.0,296.8 491.2,296.9 492.0,297.0 492.8,297.0 493.6,297.0 494.4,296.9 495.2,297.0 496.0,297.2 496.8,297.0 497.6,297.1 498.4,297.2 499.2,297.1 500.0,297.2 500.8,297.4 501.6,297.1 502.4,297.1 503.2,297.0 504.0,297.0 504.8,296.9 505.6,297.0 506.4,297.0 507.2,297.0 508.0,297.1 508.8,297.1 509.6,297.3 510.4,297.4 511.2,297.2 512.0,297.1 512.8,297.0 513.6,297.0 514.4,296.9 515.2,297.1 516.0,297.3 516.8,297.5 517.6,297.3 518.4,297.1 519.2,297.3 520.0,297.2 520.8,297.4 521.6,297.3 522.4,297.2 523.2,297.1 524.0,297.3 524.8,297.3 525.6,297.3 526.4,297.2 527.2,297.3 528.0,297.4 528.8,297.4 529.6,297.2 530.4,297.2 531.2,297.4 532.0,297.3 532.8,297.3 533.6,297.3 534.4,297.3 535.1,297.3 535.2,297.1 535.4,297.2 535.8,297.3 536.0,297.1 536.1,297.1 536.4,297.3 536.7,297.4 536.8,297.1 537.0,297.2 537.4,297.3 537.6,297.4 537.7,297.3 538.0,297.1 538.3,297.0 538.4,297.2 538.6,297.3 538.9,297.1 539.2,297.2 539.3,297.2 539.6,297.2 539.9,297.0 540.0,297.0 540.2,297.0 540.5,297.0 540.8,297.0 540.9,296.8 541.2,296.9 541.5,296.8 541.6,297.0 541.8,296.8 542.1,296.8 542.4,296.8 542.5,296.6 542.8,296.6 543.1,296.2 543.2,296.3 543.4,295.9 543.7,295.7 544.0,295.4 544.1,295.2 544.4,294.7 544.7,294.3 544.8,294.2 545.0,293.8 545.3,293.5 545.6,293.2 545.7,293.4 546.0,293.3 546.3,293.4 546.4,293.4 546.6,293.9 546.9,294.2 547.2,294.6 547.3,294.8 547.6,295.2 547.9,295.7 548.0,295.6 548.2,295.7 548.5,295.9 548.8,296.2 548.9,296.5 549.2,296.5 549.5,296.7 549.6,296.8 549.8,296.8 550.1,296.7 550.4,296.9 550.5,296.9 550.8,297.1 551.1,297.3 551.2,297.1 551.4,297.1 551.7,297.1 552.0,296.9 552.1,297.0 552.4,297.2 552.7,297.1 552.8,297.2 553.0,297.2 553.3,297.0 553.6,297.3 553.6,297.1 554.0,297.0 554.3,297.2 554.4,297.0 554.6,297.0 554.9,296.9 555.2,297.0 555.2,296.9 555.6,296.9 555.9,296.9 556.0,296.8 556.2,296.8 556.5,296.9 556.8,297.0 557.6,296.9 558.4,297.2 559.2,297.2 560.0,297.1 560.8,297.0 561.6,297.2 562.4,297.1 563.1,297.2 563.9,297.1 564.7,297.3 565.5,297.2 566.3,297.2 567.1,297.4 567.9,297.1 568.7,297.0 569.5,297.1 570.3,297.2 571.1,297.2 571.9,297.1 572.7,297.1 573.5,297.0 574.0,297.0 574.3,296.9 574.3,297.0 574.6,297.0 575.0,296.9 575.1,297.0 575.3,296.9 575.6,297.0 575.9,297.0 575.9,296.9 576.2,296.8 576.5,296.8 576.7,296.9 576.9,297.0 577.2,296.9 577.5,296.9 577.5,297.0 577.8,296.9 578.1,297.0 578.3,297.1 578.5,297.2 578.8,297.1 579.1,296.8 579.1,296.9 579.4,296.8 579.7,296.6 579.9,296.7 580.1,296.7 580.4,296.6 580.7,296.4 580.7,296.2 581.0,296.2 581.3,295.8 581.5,295.6 581.7,295.5 582.0,295.0 582.3,294.5 582.3,294.6 582.6,293.8 582.9,293.1 583.1,292.4 583.3,292.1 583.6,291.0 583.9,289.8 583.9,289.5 584.2,288.2 584.5,287.1 584.7,286.3 584.9,285.9 585.2,285.0 585.5,284.8 585.5,284.9 585.8,285.2 586.1,285.9 586.3,286.6 586.5,287.1 586.8,288.3 587.1,289.8 587.1,290.1 587.4,291.3 587.7,292.5 587.9,293.0 588.1,293.4 588.4,294.0 588.7,294.8 588.7,294.8 589.0,295.4 589.3,295.8 589.5,296.1 589.7,295.9 590.0,296.3 590.3,296.3 590.3,296.2 590.6,296.3 590.9,296.6 591.1,296.7 591.3,296.8 591.6,296.9 591.9,296.7 591.9,296.6 592.2,296.7 592.5,296.6 592.7,296.7 592.8,296.6 593.2,296.6 593.5,296.8 593.5,296.7 593.8,297.0 594.1,296.9 594.3,297.1 594.4,296.9 594.8,296.9 595.1,296.9 595.1,296.7 595.4,296.8 595.7,296.9 595.9,296.7 596.0,297.0 596.4,297.0 596.7,296.8 596.7,297.1 597.5,297.0 598.3,296.9 599.1,296.8 599.9,296.8 600.7,297.0 601.5,297.1 602.3,297.1 603.1,297.0 603.9,297.0 604.7,297.2 605.1,297.1 605.4,297.3 605.5,297.4 605.7,297.1 606.1,297.3 606.3,297.0 606.4,297.1 606.7,297.3 607.0,297.3 607.1,297.2 607.3,297.3 607.7,297.1 607.9,297.1 608.0,297.0 608.3,297.0 608.6,296.9 608.7,297.1 608.9,297.1 609.3,297.2 609.5,297.2 609.6,297.2 609.9,297.3 610.2,297.3 610.3,297.2 610.5,297.1 610.9,297.2 611.1,297.1 611.2,296.9 611.5,296.8 611.8,296.9 611.9,297.1 612.1,297.1 612.4,297.0 612.7,297.1 612.8,297.1 613.1,296.9 613.4,296.8 613.5,296.8 613.7,296.6 614.0,296.3 614.3,296.3 614.4,296.4 614.7,296.1 615.0,295.9 615.1,296.0 615.3,295.5 615.6,295.0 615.9,294.8 616.0,294.6 616.3,294.4 616.6,293.9 616.7,293.6 616.9,293.2 617.2,292.5 617.5,291.8 617.6,291.8 617.9,291.0 618.2,290.3 618.3,290.2 618.5,289.8 618.8,289.6 619.1,289.6 619.2,289.9 619.5,290.1 619.8,290.6 619.9,290.8 620.1,291.2 620.4,291.7 620.7,292.1 620.8,292.3 621.1,293.0 621.4,293.7 621.5,293.8 621.7,294.2 622.0,294.8 622.3,295.3 622.4,295.2 622.7,295.5 623.0,295.7 623.1,295.7 623.3,295.8 623.6,296.1 623.9,296.4 624.0,296.6 624.3,296.8 624.6,297.0 624.7,296.9 624.9,296.9 625.2,296.7 625.5,296.8 625.6,296.7 625.9,296.9 626.2,296.7 626.3,296.9 626.5,296.9 626.8,296.9 627.1,296.9 627.1,296.8 627.5,297.0 627.8,297.2 627.9,297.2 628.1,297.0 628.4,297.1 628.7,297.2 628.7,297.4 629.1,297.4 629.4,297.1 629.5,297.3 629.7,297.3 630.0,297.1 630.3,297.3 630.3,297.4 630.7,297.4 631.0,297.2 631.1,297.2 631.3,297.2 631.6,297.1 631.9,297.2 631.9,297.2 632.3,297.2 632.6,297.2 632.7,297.4 633.5,297.3 634.3,297.4 635.1,297.4 635.9,297.5 636.7,297.2 637.5,297.2 638.3,297.2 639.1,297.3 639.9,297.5 640.7,297.4 641.5,297.3 642.3,297.3 643.0,297.3 643.8,297.3 644.6,297.5 645.4,297.2 646.2,297.1 647.0,297.3 647.8,297.0 648.6,297.1 649.4,296.9 650.2,296.9 651.0,296.9 651.8,296.6 652.6,296.3 653.4,296.0 654.2,295.9 655.0,295.8 655.8,295.8 656.6,295.9 657.4,296.2 658.2,296.6 659.0,296.9 659.8,297.1 660.6,297.0 661.4,297.1 662.2,297.1 663.0,297.1 663.8,297.3 664.6,297.1 665.4,297.2 666.2,297.3 667.0,297.5 667.8,297.2 668.6,297.1 669.4,297.2 670.2,297.4 671.0,297.2 671.8,297.4 672.6,297.3 673.4,297.3 674.2,297.5 675.0,297.2 675.8,297.2 676.6,297.1 677.4,297.0 678.2,297.0 679.0,297.2 679.8,297.3 680.6,297.1 681.4,297.3 682.2,297.3 683.0,297.2" stroke="#3a9673" stroke-width="1.45"/>
<path d="M260.0,297.0 260.2,297.0 260.3,297.0 260.5,297.0 260.7,296.9 260.8,296.9 261.0,296.9 261.1,296.9 261.3,296.9 261.5,296.9 261.6,296.9 261.8,296.9 261.9,296.8 262.1,296.8 262.2,296.8 262.4,296.8 262.6,296.7 262.7,296.7 262.9,296.7 263.0,296.7 263.2,296.6 263.4,296.6 263.5,296.6 263.7,296.5 263.8,296.5 264.0,296.5 264.2,296.4 264.3,296.4 264.5,296.3 264.6,296.2 264.8,296.2 265.0,296.1 265.1,296.0 265.3,295.9 265.4,295.8 265.6,295.7 265.8,295.6 265.9,295.4 266.1,295.3 266.2,295.1 266.4,294.9 266.6,294.6 266.7,294.3 266.9,293.9 267.0,293.5 267.2,292.8 267.4,291.8 267.5,290.4 267.7,288.2 267.8,285.0 268.0,280.1 268.2,273.1 268.3,263.5 268.5,251.0 268.6,235.5 268.8,217.6 269.0,198.3 269.1,179.3 269.3,162.8 269.4,151.4 269.6,147.3 269.8,151.4 269.9,162.8 270.1,179.3 270.2,198.3 270.4,217.6 270.6,235.5 270.7,251.0 270.9,263.5 271.0,273.1 271.2,280.1 271.4,284.9 271.5,288.2 271.7,290.4 271.8,291.8 272.0,292.8 272.2,293.4 272.3,293.9 272.5,294.3 272.6,294.6 272.8,294.8 273.0,295.1 273.1,295.2 273.3,295.4 273.4,295.5 273.6,295.7 273.8,295.8 273.9,295.9 274.1,296.0 274.2,296.1 274.4,296.1 274.6,296.2 274.7,296.3 274.9,296.3 275.0,296.4 275.2,296.4 275.4,296.5 275.5,296.5 275.7,296.5 275.8,296.6 276.0,296.6 276.2,296.6 276.3,296.7 276.5,296.7 276.6,296.7 276.8,296.7 277.0,296.7 277.1,296.8 277.3,296.8 277.4,296.8 277.6,296.8 277.7,296.8 277.9,296.8 278.1,296.8 278.2,296.8 278.4,296.8 278.5,296.8 278.7,296.8 278.9,296.8 279.0,296.8Z" fill="#3a9673" fill-opacity="0.3" stroke="none"/>
<path d="M309.8,297.1 310.0,297.1 310.1,297.1 310.3,297.1 310.5,297.1 310.6,297.1 310.8,297.1 310.9,297.1 311.1,297.1 311.3,297.1 311.4,297.1 311.6,297.1 311.7,297.1 311.9,297.1 312.0,297.1 312.2,297.1 312.4,297.0 312.5,297.0 312.7,297.0 312.8,297.0 313.0,297.0 313.2,297.0 313.3,297.0 313.5,296.9 313.6,296.9 313.8,296.9 314.0,296.9 314.1,296.9 314.3,296.8 314.4,296.8 314.6,296.8 314.8,296.8 314.9,296.7 315.1,296.7 315.2,296.6 315.4,296.6 315.6,296.5 315.7,296.5 315.9,296.4 316.0,296.3 316.2,296.2 316.4,296.1 316.5,296.0 316.7,295.8 316.8,295.6 317.0,295.4 317.2,295.0 317.3,294.5 317.5,293.7 317.6,292.5 317.8,290.6 318.0,287.6 318.1,283.3 318.3,277.3 318.4,269.5 318.6,260.0 318.8,249.3 318.9,238.4 319.1,228.7 319.2,221.8 319.4,219.3 319.6,221.8 319.7,228.7 319.9,238.4 320.0,249.3 320.2,260.0 320.4,269.5 320.5,277.3 320.7,283.3 320.8,287.6 321.0,290.6 321.2,292.5 321.3,293.7 321.5,294.5 321.6,295.0 321.8,295.4 322.0,295.6 322.1,295.8 322.3,296.0 322.4,296.1 322.6,296.2 322.8,296.3 322.9,296.4 323.1,296.5 323.2,296.5 323.4,296.6 323.6,296.6 323.7,296.7 323.9,296.7 324.0,296.8 324.2,296.8 324.4,296.8 324.5,296.8 324.7,296.9 324.8,296.9 325.0,296.9 325.2,296.9 325.3,296.9 325.5,297.0 325.6,297.0 325.8,297.0 326.0,297.0 326.1,297.0 326.3,297.0 326.4,297.0 326.6,297.1 326.8,297.1 326.9,297.1 327.1,297.1 327.2,297.1 327.4,297.1 327.5,297.1 327.7,297.1 327.9,297.1 328.0,297.1 328.2,297.1 328.3,297.1 328.5,297.1 328.7,297.1 328.8,297.1Z" fill="#3a9673" fill-opacity="0.3" stroke="none"/>
<path d="M43.8,248.2 44.6,248.3 45.4,248.1 46.2,248.2 47.0,248.3 47.8,248.1 48.6,248.0 49.4,248.1 50.2,248.2 51.0,248.0 51.8,248.2 52.6,248.2 53.4,248.2 54.2,248.3 55.0,248.4 55.8,248.2 56.6,248.3 57.4,248.3 58.2,248.2 59.0,248.2 59.8,248.2 60.6,248.3 61.4,248.2 62.2,248.1 63.0,248.0 63.8,248.1 64.6,248.0 65.4,248.1 66.2,248.2 67.0,248.1 67.8,248.2 68.6,248.2 69.4,248.0 70.2,248.1 71.0,248.2 71.8,248.1 72.6,248.0 73.4,248.0 74.2,248.1 75.0,248.1 75.8,248.2 76.6,248.0 77.4,247.9 78.2,248.0 79.0,248.1 79.8,248.0 80.6,247.9 81.4,248.1 82.2,247.9 83.0,248.1 83.8,247.9 84.5,247.9 85.3,248.0 86.1,248.2 86.9,248.1 87.7,248.1 88.5,247.9 89.3,248.0 90.1,247.9 90.9,248.1 91.7,248.2 92.5,248.2 93.3,248.2 94.1,248.2 94.9,248.0 95.7,248.0 96.5,248.0 97.3,248.0 98.1,248.1 98.9,248.0 99.7,248.0 100.5,248.0 101.3,248.1 102.1,248.2 102.9,248.1 103.7,248.1 104.5,248.2 105.3,248.3 106.1,248.2 106.9,248.2 107.7,248.3 108.5,248.1 109.3,248.0 110.1,247.9 110.9,248.0 111.7,248.1 112.5,248.0 113.3,248.0 114.1,248.2 114.9,248.2 115.7,248.1 116.5,248.2 117.3,248.3 118.1,248.2 118.9,248.0 119.7,248.1 120.5,248.2 121.3,248.3 122.1,248.3 122.9,248.1 123.7,248.1 124.5,248.0 125.3,248.0 126.1,248.1 126.9,248.2 127.7,248.3 128.5,248.3 129.3,248.2 130.1,248.3 130.9,248.1 131.7,248.2 132.5,248.2 133.3,248.3 134.1,248.2 134.9,248.3 135.7,248.1 136.5,248.2 137.3,248.3 138.1,248.1 138.9,248.2 139.7,248.1 140.5,248.2 141.3,248.1 142.1,248.1 142.9,248.0 143.7,248.1 144.5,248.2 145.3,248.0 146.1,248.2 146.9,248.1 147.7,248.0 148.5,248.0 149.3,248.1 150.1,248.2 150.9,248.3 151.7,248.2 151.8,248.1 152.1,247.9 152.4,247.8 152.5,247.9 152.8,248.0 153.1,248.0 153.3,248.1 153.4,248.0 153.7,248.0 154.0,247.9 154.1,247.8 154.4,248.0 154.7,248.0 154.9,247.9 155.0,247.9 155.3,247.7 155.6,247.6 155.7,247.7 156.0,247.6 156.3,247.5 156.5,247.3 156.6,247.0 156.9,246.1 157.2,244.8 157.3,244.7 157.6,243.1 157.9,241.2 158.1,240.3 158.2,240.2 158.5,241.1 158.8,243.1 158.9,243.2 159.2,244.9 159.5,246.1 159.7,246.7 159.8,247.1 160.1,247.4 160.4,247.7 160.5,247.8 160.8,247.8 161.1,247.7 161.3,247.8 161.4,247.9 161.7,247.8 162.0,247.7 162.1,247.8 162.4,247.7 162.7,247.9 162.9,248.0 163.0,247.9 163.3,247.9 163.6,247.9 163.7,247.8 164.0,247.8 164.3,248.0 164.4,248.0 164.6,248.1 165.2,248.0 166.0,248.1 166.8,248.1 167.6,248.2 168.4,248.1 169.2,248.1 170.0,248.0 170.8,248.2 171.6,248.2 172.4,248.2 173.2,248.2 174.0,248.0 174.8,248.0 175.6,247.9 176.4,248.1 177.2,247.9 178.0,248.0 178.8,248.1 179.6,248.2 180.4,248.2 181.2,248.1 181.4,248.0 181.7,248.1 182.0,248.0 182.1,248.1 182.4,248.0 182.7,248.1 182.8,248.1 183.0,248.2 183.3,248.3 183.6,248.1 183.6,248.3 184.0,248.0 184.3,248.1 184.4,247.9 184.6,248.0 184.9,247.9 185.2,248.0 185.2,247.9 185.6,247.8 185.9,247.9 186.0,247.9 186.2,247.9 186.5,247.8 186.8,247.4 186.8,247.6 187.2,247.2 187.5,246.9 187.6,246.7 187.8,246.5 188.1,246.3 188.4,246.2 188.4,246.2 188.8,246.1 189.1,246.4 189.2,246.6 189.4,246.6 189.7,247.0 190.0,247.3 190.0,247.4 190.4,247.5 190.7,247.6 190.8,247.7 191.0,247.6 191.3,247.7 191.6,247.9 191.6,248.0 192.0,247.9 192.3,248.0 192.4,247.9 192.6,248.0 192.9,247.9 193.2,247.8 193.2,247.8 193.6,247.9 193.9,247.9 194.0,248.1 194.2,248.2 194.5,248.1 194.8,248.2 194.8,248.2 195.2,248.1 195.5,248.0 195.6,248.2 195.8,248.3 196.4,248.0 197.2,248.0 198.0,248.0 198.8,247.9 199.6,248.0 200.4,248.1 201.2,248.0 202.0,248.1 202.8,248.0 203.6,247.9 204.4,248.1 205.2,248.0 206.0,248.0 206.8,247.9 207.6,247.9 208.4,247.9 209.2,247.8 210.0,247.9 210.8,248.0 211.6,248.0 212.4,248.0 213.2,248.0 214.0,248.1 214.8,248.2 215.6,248.1 216.4,248.2 217.2,248.3 218.0,248.2 218.8,248.1 219.6,248.1 220.4,248.0 221.2,248.1 222.0,248.1 222.8,248.0 223.6,248.2 224.4,248.2 225.2,248.0 226.0,248.1 226.8,248.0 227.6,248.0 228.4,248.1 229.2,248.1 230.0,248.1 230.8,248.1 231.6,248.0 232.4,248.0 233.2,248.0 234.0,248.1 234.8,247.7 235.6,247.6 236.4,247.1 237.2,246.9 238.0,247.1 238.8,247.4 239.6,247.7 240.4,247.7 241.2,247.9 242.0,247.8 242.8,247.9 242.9,248.1 243.2,247.9 243.6,247.8 243.9,248.0 244.2,248.0 244.3,248.1 244.5,248.0 244.8,247.9 245.1,248.1 245.5,247.9 245.8,248.1 245.9,248.1 246.1,247.9 246.4,247.9 246.7,247.9 247.1,247.7 247.4,247.6 247.5,247.6 247.7,247.5 248.0,247.0 248.3,246.2 248.7,245.5 249.0,244.4 249.1,244.2 249.3,244.1 249.6,244.4 249.9,245.4 250.3,246.2 250.6,247.0 250.7,247.0 250.9,247.4 251.2,247.5 251.5,247.8 251.9,247.8 252.2,247.9 252.3,247.8 252.5,247.8 252.8,247.7 253.1,247.8 253.5,247.7 253.8,247.9 253.9,248.0 254.1,247.9 254.4,248.1 254.7,248.1 255.1,248.2 255.4,247.9 255.5,248.0 255.7,248.0 256.3,248.0 257.1,247.8 257.9,247.9 258.7,247.9 259.5,247.9 260.3,247.9 261.1,247.7 261.9,247.5 262.7,247.6 263.5,247.4 263.6,247.2 263.8,247.1 263.9,247.3 264.1,247.4 264.2,247.2 264.3,247.1 264.4,247.2 264.6,247.2 264.7,247.2 264.9,246.9 265.0,246.9 265.1,247.0 265.2,246.8 265.4,246.7 265.5,246.5 265.7,246.6 265.8,246.4 265.9,246.5 266.0,246.5 266.2,246.4 266.3,246.0 266.5,245.9 266.6,245.7 266.7,245.6 266.8,245.4 267.0,245.1 267.1,244.9 267.3,244.3 267.4,243.9 267.5,243.5 267.6,243.0 267.8,241.8 267.9,240.1 268.1,237.6 268.2,233.8 268.3,231.5 268.4,228.5 268.6,220.9 268.7,211.0 268.9,198.1 269.0,182.7 269.1,174.3 269.2,165.4 269.4,147.1 269.5,129.4 269.7,114.1 269.8,103.9 269.9,101.1 270.0,100.2 270.2,103.8 270.3,114.0 270.5,129.1 270.6,146.6 270.7,155.9 270.8,164.8 271.0,182.2 271.1,197.6 271.3,210.5 271.4,220.4 271.5,224.5 271.6,228.2 271.8,233.8 271.9,237.7 272.1,240.1 272.2,241.8 272.3,242.3 272.4,243.0 272.6,243.9 272.7,244.5 272.9,245.0 273.0,245.3 273.1,245.4 273.2,245.6 273.4,245.8 273.5,246.0 273.7,246.2 273.8,246.3 273.9,246.4 274.0,246.4 274.2,246.4 274.3,246.5 274.5,246.6 274.6,246.7 274.7,246.8 274.8,246.8 275.0,246.9 275.1,246.9 275.3,247.0 275.4,247.2 275.5,247.1 275.6,247.0 275.7,247.2 275.9,247.2 276.1,247.2 276.2,247.3 276.3,247.3 277.1,247.4 277.9,247.3 278.3,247.6 278.7,247.8 278.7,247.6 279.0,247.6 279.3,247.6 279.5,247.5 279.6,247.7 279.9,247.8 280.2,247.7 280.3,247.6 280.6,247.7 280.9,247.7 281.1,247.7 281.2,247.6 281.5,247.5 281.8,247.5 281.9,247.6 282.2,247.4 282.5,246.7 282.7,246.2 282.8,245.9 283.1,244.2 283.4,241.5 283.5,240.8 283.8,237.8 284.1,234.0 284.3,231.5 284.4,230.7 284.7,229.1 285.0,229.7 285.1,230.1 285.4,232.6 285.7,236.3 285.9,238.7 286.0,239.9 286.3,242.9 286.6,245.0 286.7,245.5 287.0,246.5 287.3,247.1 287.5,247.3 287.6,247.4 287.9,247.6 288.2,247.6 288.3,247.7 288.6,247.8 288.9,247.7 289.1,247.9 289.2,247.8 289.5,248.0 289.8,248.1 289.9,248.0 290.2,248.0 290.5,247.8 290.7,247.8 290.8,247.9 291.1,248.0 291.5,247.9 292.3,247.8 293.1,247.8 293.9,247.9 294.7,247.8 295.5,247.8 296.3,247.9 297.1,248.1 297.9,248.1 298.7,248.0 299.5,248.0 300.3,247.9 301.1,248.1 301.9,247.9 302.7,247.9 303.5,247.9 304.3,248.1 305.1,247.9 305.9,247.9 306.7,247.8 307.5,247.8 308.3,247.8 309.1,247.8 309.9,247.9 310.7,247.9 311.5,247.9 312.3,247.8 313.1,247.9 313.3,247.9 313.5,247.8 313.6,247.9 313.8,247.8 313.9,247.9 313.9,247.8 314.1,247.8 314.3,247.7 314.4,247.6 314.6,247.5 314.7,247.6 314.7,247.6 314.9,247.6 315.1,247.5 315.2,247.5 315.4,247.4 315.5,247.3 315.5,247.3 315.7,247.3 315.9,247.3 316.0,247.1 316.2,247.1 316.3,247.1 316.3,246.9 316.5,246.8 316.7,246.7 316.8,246.7 317.0,246.6 317.1,246.4 317.1,246.2 317.3,245.9 317.5,245.5 317.6,244.9 317.8,244.2 317.9,243.7 317.9,242.9 318.1,240.8 318.3,237.6 318.4,233.0 318.6,226.9 318.7,223.6 318.7,219.3 318.9,210.5 319.1,200.9 319.2,191.2 319.4,182.6 319.5,179.4 319.5,176.8 319.7,174.7 319.9,176.8 320.0,182.7 320.2,191.5 320.3,195.7 320.3,201.3 320.5,210.9 320.7,219.8 320.8,227.2 321.0,233.3 321.1,235.3 321.1,237.4 321.3,240.5 321.5,242.8 321.6,244.4 321.8,245.2 321.9,245.5 321.9,245.7 322.1,246.0 322.3,246.2 322.4,246.6 322.6,246.6 322.7,246.8 322.7,246.8 322.9,246.8 323.1,247.0 323.2,247.2 323.4,247.2 323.5,247.1 323.5,247.3 323.7,247.4 323.9,247.4 324.0,247.4 324.2,247.6 324.2,247.4 324.3,247.4 324.5,247.4 324.7,247.5 324.8,247.6 325.0,247.6 325.0,247.7 325.1,247.8 325.3,247.8 325.5,247.6 325.6,247.8 325.8,247.6 325.8,247.6 325.9,247.6 326.6,247.7 327.4,247.9 328.2,247.8 329.0,247.8 329.8,248.0 330.6,248.1 331.4,247.9 332.2,248.0 333.0,248.1 333.8,248.0 333.8,247.9 334.1,248.0 334.5,247.9 334.6,247.8 334.8,247.8 335.1,247.8 335.4,247.8 335.4,247.8 335.7,247.9 336.1,248.0 336.2,247.9 336.4,248.0 336.7,247.9 337.0,247.9 337.0,248.0 337.3,248.1 337.6,248.2 337.8,248.2 338.0,248.1 338.3,248.1 338.6,248.1 338.6,247.9 338.9,247.8 339.2,247.7 339.4,247.9 339.6,247.8 339.9,247.7 340.2,247.7 340.2,247.6 340.5,247.6 340.8,247.6 341.0,247.5 341.2,247.5 341.5,247.2 341.8,246.7 341.8,246.8 342.1,246.6 342.4,246.2 342.6,245.9 342.8,245.7 343.1,245.7 343.4,245.6 343.4,245.7 343.7,245.7 344.0,245.8 344.2,246.0 344.4,246.2 344.7,246.7 345.0,246.9 345.0,246.9 345.3,247.1 345.6,247.5 345.8,247.6 346.0,247.6 346.3,247.7 346.6,247.7 346.6,247.8 346.9,248.0 347.2,247.9 347.4,247.8 347.6,247.7 347.9,248.0 348.2,247.8 348.2,248.0 348.5,248.0 348.8,248.0 349.0,248.0 349.2,248.0 349.5,248.0 349.8,247.9 349.8,248.1 350.1,247.9 350.4,247.8 350.6,248.0 350.8,248.0 351.1,248.1 351.4,248.2 351.4,248.2 351.7,248.0 352.0,247.9 352.2,247.9 352.3,248.0 352.7,247.9 353.0,248.0 353.0,248.1 353.8,248.0 354.6,248.0 355.4,248.2 356.2,248.2 357.0,248.1 357.8,248.1 358.6,248.0 359.4,248.2 360.2,248.2 361.0,248.2 361.8,248.1 362.6,248.2 363.4,248.1 364.2,248.2 365.0,248.1 365.8,248.2 366.6,248.2 367.4,248.2 368.2,248.1 369.0,248.2 369.8,248.2 370.6,248.3 371.4,248.0 372.2,248.2 373.0,248.2 373.8,248.2 374.6,248.2 375.4,248.1 376.2,248.0 377.0,248.1 377.8,248.2 378.6,248.1 379.4,248.3 380.2,248.2 381.0,248.0 381.8,247.9 382.6,247.9 383.4,248.0 384.2,248.0 385.0,247.9 385.8,248.0 386.6,247.9 387.4,248.1 388.2,248.2 389.0,248.2 389.8,248.1 390.6,248.0 391.4,248.1 392.2,248.0 393.0,248.2 393.8,248.3 394.6,248.3 395.4,248.3 396.2,248.1 397.0,248.0 397.8,248.0 398.6,247.9 399.4,247.9 400.2,248.2 401.0,248.2 401.8,248.3 402.6,248.1 403.4,248.0 404.1,247.9 404.9,247.9 405.7,247.8 406.5,247.9 407.3,247.9 408.1,248.0 408.9,248.1 409.7,248.1 410.5,248.0 411.3,248.1 412.1,248.2 412.9,248.2 413.7,248.1 414.5,248.1 415.3,248.0 416.1,247.9 416.9,247.9 417.2,248.0 417.5,247.9 417.7,248.1 417.9,248.2 418.2,248.2 418.5,248.3 418.5,248.2 418.8,248.0 419.1,247.9 419.3,248.1 419.4,248.2 419.8,248.0 420.1,247.8 420.1,247.9 420.4,247.9 420.7,248.0 420.9,247.9 421.0,248.0 421.4,248.0 421.7,248.1 421.7,248.0 422.0,247.9 422.3,247.8 422.5,248.0 422.6,248.0 423.0,248.1 423.3,247.9 423.3,247.9 423.6,247.9 423.9,248.0 424.1,248.1 424.2,247.8 424.6,247.7 424.9,247.8 424.9,247.7 425.2,247.7 425.5,247.4 425.7,247.1 425.8,247.2 426.2,246.8 426.5,246.6 426.5,246.5 426.8,246.3 427.1,246.1 427.3,246.1 427.4,246.0 427.8,245.7 428.1,245.7 428.1,245.5 428.4,245.6 428.7,246.0 428.9,246.0 429.0,246.1 429.4,246.4 429.7,246.6 429.7,246.8 430.0,247.0 430.3,247.1 430.5,247.4 430.6,247.3 431.0,247.5 431.3,247.6 431.3,247.5 431.6,247.5 431.9,247.8 432.1,247.9 432.2,247.9 432.6,248.0 432.9,248.1 432.9,248.2 433.2,248.1 433.5,248.0 433.7,248.0 433.8,248.1 434.2,248.1 434.5,248.1 434.5,248.2 434.8,248.1 435.1,248.1 435.3,248.1 435.4,248.0 435.7,248.1 436.1,247.9 436.1,248.0 436.4,248.0 436.7,247.9 436.9,248.1 437.0,248.0 437.3,247.9 437.7,247.9 437.7,248.0 438.0,248.0 438.3,247.8 438.5,247.7 438.6,247.9 439.3,247.8 440.1,247.7 440.9,247.8 441.7,247.6 442.5,247.4 443.3,247.1 444.1,247.1 444.9,247.6 445.7,247.8 446.5,247.9 447.3,247.8 448.1,247.9 448.9,247.9 449.7,248.0 450.5,248.1 451.3,248.0 452.1,247.9 452.9,248.0 453.7,247.9 454.5,247.9 455.3,247.9 456.1,248.1 456.9,248.0 457.7,248.0 458.5,248.0 459.3,247.9 460.1,247.9 460.9,248.0 461.7,247.9 462.5,248.0 463.3,247.9 464.1,247.8 464.9,247.9 465.7,247.9 466.5,248.0 467.3,247.8 468.1,247.9 468.9,247.9 469.7,247.8 470.5,247.7 471.2,247.7 471.3,247.8 471.6,247.7 471.9,247.7 472.1,247.7 472.2,247.7 472.5,247.7 472.8,247.5 472.9,247.5 473.2,247.5 473.5,247.6 473.7,247.7 473.8,247.6 474.1,247.5 474.4,247.3 474.5,247.4 474.7,247.4 475.1,247.2 475.3,247.2 475.4,247.3 475.7,247.1 476.0,247.1 476.1,247.0 476.3,246.8 476.7,246.7 476.9,246.4 477.0,246.2 477.3,246.1 477.6,245.4 477.7,245.3 477.9,244.8 478.3,244.0 478.5,243.4 478.6,243.0 478.9,241.4 479.2,239.3 479.3,238.9 479.5,236.7 479.9,234.1 480.1,232.3 480.2,231.2 480.5,228.5 480.8,226.0 480.9,226.0 481.1,224.8 481.5,224.9 481.7,225.5 481.8,226.2 482.1,228.6 482.4,231.3 482.5,231.7 482.7,234.2 483.1,236.8 483.2,238.3 483.4,239.4 483.7,241.3 484.0,242.7 484.0,242.8 484.3,243.9 484.7,244.9 484.8,245.2 485.0,245.5 485.3,245.9 485.6,246.3 485.6,246.3 485.9,246.5 486.3,246.9 486.4,247.0 486.6,247.2 486.9,247.2 487.2,247.3 487.2,247.1 487.5,247.1 487.9,247.3 488.0,247.4 488.2,247.4 488.5,247.4 488.8,247.4 488.8,247.6 489.1,247.6 489.5,247.4 489.6,247.5 489.8,247.5 490.1,247.4 490.4,247.7 490.4,247.8 490.7,247.9 491.0,247.7 491.2,247.7 492.0,247.6 492.8,247.8 493.6,247.9 494.4,248.0 495.2,248.1 496.0,247.9 496.8,247.8 497.6,247.7 498.4,247.9 499.2,248.1 500.0,248.0 500.8,247.9 501.6,248.1 502.4,247.9 503.2,247.9 504.0,247.8 504.8,248.0 505.6,248.0 506.4,248.1 507.2,248.2 508.0,248.1 508.8,248.3 509.6,248.3 510.4,248.3 511.2,248.3 512.0,248.1 512.8,248.2 513.6,248.0 514.4,248.0 515.2,248.0 516.0,248.1 516.8,248.0 517.6,248.0 518.4,247.9 519.2,248.1 520.0,248.1 520.8,248.1 521.6,248.1 522.4,248.2 523.2,248.1 524.0,248.0 524.8,248.1 525.6,248.1 526.4,248.2 527.2,248.1 528.0,248.2 528.8,248.2 529.6,248.2 530.4,248.1 531.2,248.1 532.0,247.9 532.8,247.8 533.6,247.8 534.4,247.8 535.2,247.7 535.2,247.9 535.5,248.0 535.9,248.0 536.0,247.9 536.2,248.0 536.5,248.1 536.8,248.1 536.8,247.9 537.1,248.0 537.5,247.9 537.6,247.9 537.8,247.8 538.1,248.0 538.4,248.0 538.4,248.1 538.7,247.9 539.1,247.8 539.2,247.9 539.4,247.7 539.7,247.7 540.0,247.8 540.0,247.8 540.3,247.9 540.7,247.9 540.8,247.9 541.0,247.8 541.3,247.9 541.6,247.7 541.6,247.5 541.9,247.7 542.2,247.6 542.4,247.4 542.6,247.2 542.9,246.9 543.2,246.8 543.2,246.7 543.5,246.3 543.8,246.0 544.0,245.7 544.2,245.4 544.5,244.9 544.8,244.3 544.8,244.2 545.1,243.7 545.4,243.2 545.6,243.1 545.8,243.0 546.1,242.9 546.4,243.1 546.4,243.0 546.7,243.6 547.0,244.3 547.2,244.5 547.4,244.6 547.7,245.2 548.0,245.9 548.0,245.9 548.3,246.2 548.6,246.7 548.8,247.0 549.0,247.0 549.3,247.2 549.6,247.4 549.6,247.3 549.9,247.4 550.2,247.6 550.4,247.7 550.6,247.7 550.9,247.8 551.2,247.8 551.2,247.6 551.5,247.6 551.8,247.8 552.0,247.9 552.2,248.0 552.5,247.8 552.8,247.9 552.8,247.8 553.1,247.8 553.4,247.8 553.6,247.9 553.8,248.0 554.1,248.1 554.4,248.0 554.4,248.1 554.7,248.0 555.0,248.0 555.2,248.0 555.4,247.9 555.7,247.9 556.0,247.8 556.0,247.9 556.3,247.8 556.6,247.8 556.8,247.8 557.6,247.9 558.4,248.0 559.2,248.0 560.0,248.1 560.8,248.1 561.6,248.0 562.4,248.0 563.1,247.9 563.9,247.8 564.7,247.7 565.5,247.7 566.3,247.7 567.1,247.9 567.9,247.9 568.7,247.8 569.5,247.7 570.3,247.8 571.1,247.8 571.9,247.6 572.7,247.5 573.5,247.6 573.6,247.7 573.9,247.5 574.2,247.6 574.3,247.6 574.6,247.6 574.9,247.6 575.1,247.5 575.2,247.7 575.5,247.6 575.8,247.5 575.9,247.5 576.1,247.6 576.5,247.6 576.7,247.6 576.8,247.5 577.1,247.5 577.4,247.4 577.5,247.5 577.7,247.5 578.1,247.4 578.3,247.1 578.4,247.1 578.7,246.9 579.0,246.7 579.1,246.8 579.3,246.6 579.7,246.5 579.9,246.3 580.0,246.2 580.3,246.0 580.6,245.7 580.7,245.7 580.9,245.5 581.3,244.8 581.5,244.0 581.6,243.9 581.9,242.8 582.2,241.5 582.3,240.9 582.5,239.7 582.9,237.5 583.1,235.7 583.2,235.3 583.5,232.6 583.8,229.8 583.9,228.9 584.1,227.0 584.5,224.6 584.7,223.2 584.8,223.0 585.1,222.5 585.4,223.1 585.5,223.5 585.7,224.7 586.1,226.9 586.3,229.3 586.4,230.0 586.7,232.7 587.0,235.2 587.1,236.0 587.3,237.7 587.7,239.7 587.9,241.2 588.0,241.2 588.3,242.5 588.6,243.5 588.7,243.9 588.9,244.4 589.3,245.0 589.5,245.6 589.6,245.7 589.9,246.0 590.2,246.4 590.3,246.5 590.5,246.6 590.9,246.8 591.1,246.8 591.2,246.7 591.5,247.0 591.8,247.1 591.9,247.1 592.1,247.0 592.4,247.2 592.7,247.2 592.8,247.3 593.1,247.2 593.4,247.5 593.5,247.4 593.7,247.3 594.0,247.5 594.3,247.4 594.4,247.4 594.7,247.5 595.0,247.7 595.1,247.5 595.3,247.5 595.6,247.6 595.9,247.5 596.0,247.5 596.3,247.7 596.7,247.8 597.5,247.9 598.3,247.7 599.1,247.9 599.9,247.8 600.7,247.9 601.5,247.9 602.3,248.0 603.1,248.0 603.9,247.8 604.7,247.7 604.8,247.8 605.1,247.7 605.4,247.6 605.5,247.9 605.8,247.9 606.1,248.0 606.3,247.8 606.4,247.8 606.7,247.8 607.0,247.7 607.1,247.7 607.4,247.9 607.7,247.9 607.9,247.9 608.0,247.9 608.3,248.0 608.6,248.1 608.7,248.0 608.9,247.8 609.3,247.9 609.5,247.8 609.6,247.7 609.9,247.6 610.2,247.7 610.3,247.7 610.5,247.7 610.9,247.7 611.1,247.6 611.2,247.7 611.5,247.7 611.8,247.6 611.9,247.7 612.1,247.8 612.5,247.8 612.7,247.9 612.8,247.6 613.1,247.5 613.4,247.3 613.5,247.3 613.7,247.3 614.1,247.2 614.3,246.9 614.4,246.9 614.7,246.8 615.0,246.6 615.1,246.4 615.3,245.9 615.7,245.5 615.9,245.2 616.0,245.1 616.3,244.4 616.6,243.7 616.7,243.8 616.9,243.0 617.3,242.4 617.5,241.8 617.6,241.8 617.9,241.2 618.2,240.9 618.3,240.7 618.5,240.7 618.9,240.6 619.1,240.6 619.2,240.6 619.5,241.0 619.8,241.6 619.9,242.0 620.1,242.4 620.5,243.2 620.7,243.5 620.8,243.7 621.1,244.4 621.4,244.9 621.5,245.1 621.7,245.5 622.1,245.9 622.3,246.3 622.4,246.5 622.7,246.6 623.0,246.8 623.1,246.7 623.3,246.9 623.7,247.2 623.9,247.5 624.0,247.6 624.3,247.7 624.6,247.6 624.7,247.7 624.9,247.8 625.2,247.7 625.5,247.9 625.6,247.9 625.9,247.7 626.2,247.7 626.3,247.6 626.5,247.7 626.8,247.8 627.1,247.9 627.2,247.7 627.5,247.6 627.8,247.9 627.9,247.8 628.1,247.8 628.4,247.9 628.7,247.8 628.8,247.9 629.1,248.1 629.4,248.0 629.5,248.0 629.7,247.8 630.0,247.9 630.3,248.0 630.4,248.0 630.7,248.0 631.0,247.9 631.1,247.8 631.3,247.9 631.6,247.8 631.9,247.7 632.0,247.8 632.3,247.9 632.7,248.0 633.5,247.9 634.3,248.1 635.1,248.1 635.9,248.0 636.7,248.0 637.5,248.1 638.3,248.0 639.1,248.0 639.9,248.0 640.7,248.2 641.5,248.2 642.3,248.0 643.0,248.0 643.8,248.0 644.6,248.0 645.4,248.1 646.2,247.9 647.0,247.9 647.8,247.9 648.6,247.9 649.4,248.0 650.2,247.9 651.0,247.8 651.8,247.6 652.6,247.4 653.4,247.3 654.2,247.2 655.0,247.0 655.8,247.1 656.6,247.2 657.4,247.3 658.2,247.4 659.0,247.7 659.8,247.9 660.6,248.1 661.4,248.0 662.2,247.9 663.0,248.0 663.8,247.9 664.6,248.0 665.4,248.1 666.2,248.0 667.0,248.0 667.8,248.1 668.6,248.0 669.4,248.0 670.2,248.1 671.0,248.1 671.8,248.1 672.6,248.0 673.4,247.9 674.2,247.9 675.0,247.8 675.8,248.0 676.6,248.0 677.4,248.2 678.2,248.2 679.0,248.3 679.8,248.2 680.6,248.1 681.4,248.1 682.2,248.1 683.0,248.2" stroke="#e8953c" stroke-width="1.55"/>
<path d="M260.4,247.8 260.6,247.8 260.7,247.7 260.9,247.7 261.1,247.7 261.2,247.7 261.4,247.7 261.5,247.7 261.7,247.7 261.9,247.6 262.0,247.6 262.2,247.6 262.3,247.6 262.5,247.6 262.6,247.6 262.8,247.5 263.0,247.5 263.1,247.5 263.3,247.5 263.4,247.4 263.6,247.4 263.8,247.4 263.9,247.3 264.1,247.3 264.2,247.2 264.4,247.2 264.6,247.1 264.7,247.1 264.9,247.0 265.0,246.9 265.2,246.9 265.4,246.8 265.5,246.7 265.7,246.6 265.8,246.5 266.0,246.4 266.2,246.2 266.3,246.1 266.5,245.9 266.6,245.7 266.8,245.5 267.0,245.2 267.1,244.8 267.3,244.4 267.4,243.9 267.6,243.0 267.8,241.9 267.9,240.1 268.1,237.6 268.2,233.7 268.4,228.3 268.6,220.7 268.7,210.6 268.9,197.8 269.0,182.5 269.2,165.2 269.4,146.9 269.5,129.2 269.7,114.1 269.8,103.8 270.0,100.1 270.2,103.8 270.3,114.1 270.5,129.2 270.6,146.9 270.8,165.2 271.0,182.5 271.1,197.8 271.3,210.6 271.4,220.7 271.6,228.3 271.8,233.7 271.9,237.5 272.1,240.1 272.2,241.9 272.4,243.0 272.6,243.8 272.7,244.4 272.9,244.8 273.0,245.2 273.2,245.4 273.4,245.7 273.5,245.9 273.7,246.1 273.8,246.2 274.0,246.4 274.2,246.5 274.3,246.6 274.5,246.7 274.6,246.8 274.8,246.9 275.0,246.9 275.1,247.0 275.3,247.1 275.4,247.1 275.6,247.2 275.8,247.2 275.9,247.2 276.1,247.3 276.2,247.3 276.4,247.4 276.6,247.4 276.7,247.4 276.9,247.4 277.0,247.5 277.2,247.5 277.4,247.5 277.5,247.5 277.7,247.5 277.8,247.6 278.0,247.6 278.1,247.6 278.3,247.6 278.5,247.6 278.6,247.6 278.8,247.6 278.9,247.6 279.1,247.6 279.3,247.7 279.4,247.7Z" fill="#e8953c" fill-opacity="0.4" stroke="none"/>
<path d="M310.1,247.9 310.3,247.9 310.4,247.9 310.6,247.9 310.8,247.9 310.9,247.9 311.1,247.9 311.2,247.9 311.4,247.9 311.6,247.9 311.7,247.9 311.9,247.9 312.0,247.9 312.2,247.9 312.3,247.9 312.5,247.8 312.7,247.8 312.8,247.8 313.0,247.8 313.1,247.8 313.3,247.8 313.5,247.8 313.6,247.8 313.8,247.7 313.9,247.7 314.1,247.7 314.3,247.7 314.4,247.7 314.6,247.6 314.7,247.6 314.9,247.6 315.1,247.5 315.2,247.5 315.4,247.5 315.5,247.4 315.7,247.4 315.9,247.3 316.0,247.2 316.2,247.2 316.3,247.1 316.5,247.0 316.7,246.9 316.8,246.7 317.0,246.6 317.1,246.4 317.3,246.1 317.5,245.7 317.6,245.1 317.8,244.2 317.9,242.8 318.1,240.7 318.3,237.5 318.4,233.1 318.6,227.1 318.7,219.6 318.9,210.8 319.1,201.0 319.2,191.3 319.4,182.7 319.5,176.7 319.7,174.6 319.9,176.7 320.0,182.7 320.2,191.3 320.3,201.0 320.5,210.8 320.7,219.6 320.8,227.1 321.0,233.1 321.1,237.5 321.3,240.7 321.5,242.8 321.6,244.2 321.8,245.1 321.9,245.7 322.1,246.1 322.3,246.4 322.4,246.6 322.6,246.7 322.7,246.9 322.9,247.0 323.1,247.1 323.2,247.2 323.4,247.2 323.5,247.3 323.7,247.4 323.9,247.4 324.0,247.5 324.2,247.5 324.3,247.5 324.5,247.6 324.7,247.6 324.8,247.6 325.0,247.7 325.1,247.7 325.3,247.7 325.5,247.7 325.6,247.7 325.8,247.8 325.9,247.8 326.1,247.8 326.3,247.8 326.4,247.8 326.6,247.8 326.7,247.8 326.9,247.8 327.1,247.9 327.2,247.9 327.4,247.9 327.5,247.9 327.7,247.9 327.8,247.9 328.0,247.9 328.2,247.9 328.3,247.9 328.5,247.9 328.6,247.9 328.8,247.9 329.0,247.9 329.1,247.9Z" fill="#e8953c" fill-opacity="0.4" stroke="none"/>
<path d="M270.1,102 V238" stroke="#e8953c" stroke-width="2.5" stroke-linecap="butt"/>
</g>
<path d="M44,1 V471.5 H683" stroke="#444" stroke-width="1.85" fill="none"/>
<g stroke="#0d0d0d" stroke-width="2.2" fill="none">
<path d="M124.0,471.6 v-9.6"/>
<path d="M283.8,471.6 v-9.6"/>
<path d="M443.6,471.6 v-9.6"/>
<path d="M603.4,471.6 v-9.6"/>
<path d="M203.9,471.6 v-5.2"/>
<path d="M363.7,471.6 v-5.2"/>
<path d="M523.5,471.6 v-5.2"/>
</g>
<path d="M43.2,0.7 H684.4 V472.2 H681.7 V2.4 H43.2 Z" fill="#0a0a0a"/>
<path d="M268.8,16.400000000000002 L274.40000000000003,23.6 L268.8,30.8 L263.2,23.6 Z" fill="#0a0a0a"/>
<path d="M320.4,153.0 L326.0,160.3 L320.4,167.60000000000002 L314.79999999999995,160.3 Z" fill="#0a0a0a"/>
<path d="M481,197.6 L487.3,205.1 L481,212.6 L474.7,205.1 Z" fill="#0a0a0a"/>
<path d="M586.5,203.5 L591.9,210 L586.5,216.5 L581.1,210 Z" fill="#0a0a0a"/>
<g fill="#d4161a"><circle cx="158.4" cy="224.1" r="2.80"/><circle cx="154.8" cy="230.5" r="3.43"/><circle cx="162.0" cy="230.5" r="3.43"/><path d="M157.3,224.1 h2.2 L159.5,230.5 L160.5,235.8 h-4.2 L157.3,230.5 Z"/></g>
<g fill="#e23a3a"><circle cx="187.0" cy="225.2" r="2.80"/><circle cx="183.4" cy="231.7" r="3.43"/><circle cx="190.6" cy="231.7" r="3.43"/><path d="M185.9,225.2 h2.2 L188.1,231.7 L189.1,236.9 h-4.2 L185.9,231.7 Z"/></g>
<g fill="#e04444"><circle cx="284.3" cy="211.2" r="2.80"/><circle cx="280.7" cy="217.7" r="3.43"/><circle cx="287.9" cy="217.7" r="3.43"/><path d="M283.2,211.2 h2.2 L285.4,217.7 L286.4,222.9 h-4.2 L283.2,217.7 Z"/></g>
<g fill="#e04848"><circle cx="343.3" cy="223.8" r="2.80"/><circle cx="339.7" cy="230.2" r="3.43"/><circle cx="346.9" cy="230.2" r="3.43"/><path d="M342.2,223.8 h2.2 L344.4,230.2 L345.4,235.4 h-4.2 L342.2,230.2 Z"/></g>
<g fill="#e04040"><circle cx="427.6" cy="224.9" r="2.80"/><circle cx="424.0" cy="231.3" r="3.43"/><circle cx="431.2" cy="231.3" r="3.43"/><path d="M426.5,224.9 h2.2 L428.7,231.3 L429.7,236.6 h-4.2 L426.5,231.3 Z"/></g>
<g fill="#d81c1c"><circle cx="545.7" cy="224.9" r="2.80"/><circle cx="542.1" cy="231.3" r="3.43"/><circle cx="549.3" cy="231.3" r="3.43"/><path d="M544.6,224.9 h2.2 L546.8,231.3 L547.8,236.6 h-4.2 L544.6,231.3 Z"/></g>
<g fill="#de4a55"><circle cx="618.7" cy="222.0" r="2.80"/><circle cx="615.1" cy="228.4" r="3.43"/><circle cx="622.3" cy="228.4" r="3.43"/><path d="M617.6,222.0 h2.2 L619.8,228.4 L620.8,233.7 h-4.2 L617.6,228.4 Z"/></g>
<path d="M459.3,22.95 L466.3,31.7 L459.3,40.45 L452.3,31.7 Z" fill="#0a0a0a"/>
<g fill="#e5303c"><circle cx="458.4" cy="60.4" r="3.52"/><circle cx="453.9" cy="68.2" r="4.31"/><circle cx="462.9" cy="68.2" r="4.31"/><path d="M457.3,60.4 h2.2 L459.5,68.2 L460.5,74.7 h-4.2 L457.3,68.2 Z"/></g>
<text x="479" y="40.4" font-family="'Liberation Serif',serif" font-size="26.3" textLength="55.5" lengthAdjust="spacingAndGlyphs" fill="#0a0a0a">α-Al</text>
<text font-family="'Liberation Serif',serif" font-size="30.3" fill="#d8323a"><tspan x="478.2" y="74.2">Mg</tspan><tspan x="520.6" y="81.6" font-size="16.5" textLength="9.7" lengthAdjust="spacingAndGlyphs">2</tspan><tspan x="531.5 549" y="74.2">Si</tspan></text>
<text transform="translate(47.2,228.6) scale(1.03,1)" font-family="'Liberation Serif',serif" font-size="29.8" fill="#9d78c6">3.6%Mg</text>
<text transform="translate(47.2,290.7) scale(1.005,1)" font-family="'Liberation Serif',serif" font-size="30.6" fill="#76932d">2.8%Mg</text>
<text transform="translate(47.2,337.2) scale(1.0,1)" font-family="'Liberation Serif',serif" font-size="30.9" fill="#1d6189">2.0%Mg</text>
<text transform="translate(47.6,386.6) scale(0.985,1)" font-family="'Liberation Serif',serif" font-size="31.3" fill="#9c242a">1.2%Mg</text>
<text transform="translate(52.4,434.9) scale(0.99,1)" font-family="'Liberation Serif',serif" font-size="31" fill="#111">0Mg</text>
<text transform="translate(123.7,505.7) scale(0.935,1)" font-family="'Liberation Serif',serif" font-size="33" text-anchor="middle" fill="#111">20</text>
<text transform="translate(283.5,505.7) scale(0.935,1)" font-family="'Liberation Serif',serif" font-size="33" text-anchor="middle" fill="#111">40</text>
<text transform="translate(443.3,505.7) scale(0.935,1)" font-family="'Liberation Serif',serif" font-size="33" text-anchor="middle" fill="#111">60</text>
<text transform="translate(603.1,505.7) scale(0.935,1)" font-family="'Liberation Serif',serif" font-size="33" text-anchor="middle" fill="#111">80</text>
<text transform="translate(363.7,546) scale(1.105,1)" font-family="'Liberation Serif',serif" font-size="28.5" text-anchor="middle" fill="#111">2θ/degree</text>
<text transform="translate(24.6,234.2) rotate(-90) scale(0.93,1)" font-family="'Liberation Serif',serif" font-size="33.6" text-anchor="middle" fill="#111">Intensity/a.u</text>
</svg>
</body></html>
